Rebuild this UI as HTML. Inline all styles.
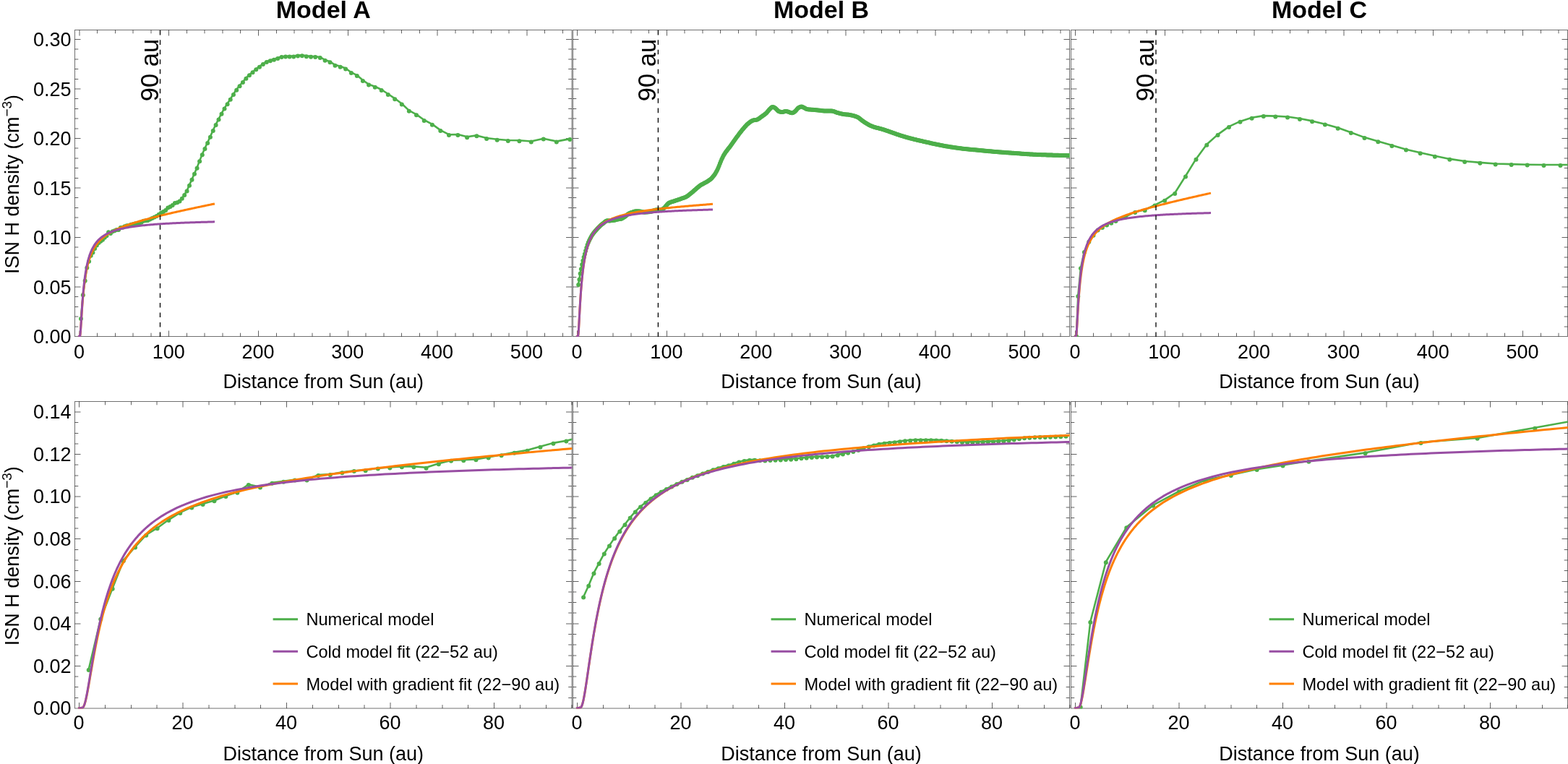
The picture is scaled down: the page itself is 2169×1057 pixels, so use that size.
<!DOCTYPE html>
<html lang="en"><head><meta charset="utf-8"><title>ISN H density models</title>
<style>html,body{margin:0;padding:0;background:#fff}body{width:2169px;height:1057px;overflow:hidden}svg{display:block}text{font-family:"Liberation Sans", Arial, Helvetica, sans-serif}</style>
</head><body>
<svg width="2169" height="1057" viewBox="0 0 2169 1057">
<rect width="2169" height="1057" fill="#fff"/>
<g id="p00">
<path d="M110 465.5 v-8 M110 41.5 v8 M134.5 465.5 v-4.8 M134.5 41.5 v4.8 M159.5 465.5 v-4.8 M159.5 41.5 v4.8 M184 465.5 v-4.8 M184 41.5 v4.8 M209 465.5 v-4.8 M209 41.5 v4.8 M233.5 465.5 v-8 M233.5 41.5 v8 M258.5 465.5 v-4.8 M258.5 41.5 v4.8 M283 465.5 v-4.8 M283 41.5 v4.8 M308 465.5 v-4.8 M308 41.5 v4.8 M332.5 465.5 v-4.8 M332.5 41.5 v4.8 M357.5 465.5 v-8 M357.5 41.5 v8 M382.5 465.5 v-4.8 M382.5 41.5 v4.8 M407 465.5 v-4.8 M407 41.5 v4.8 M432 465.5 v-4.8 M432 41.5 v4.8 M456.5 465.5 v-4.8 M456.5 41.5 v4.8 M481.5 465.5 v-8 M481.5 41.5 v8 M506 465.5 v-4.8 M506 41.5 v4.8 M531 465.5 v-4.8 M531 41.5 v4.8 M555.5 465.5 v-4.8 M555.5 41.5 v4.8 M580.5 465.5 v-4.8 M580.5 41.5 v4.8 M605 465.5 v-8 M605 41.5 v8 M630 465.5 v-4.8 M630 41.5 v4.8 M654.5 465.5 v-4.8 M654.5 41.5 v4.8 M679.5 465.5 v-4.8 M679.5 41.5 v4.8 M704 465.5 v-4.8 M704 41.5 v4.8 M729 465.5 v-8 M729 41.5 v8 M753.5 465.5 v-4.8 M753.5 41.5 v4.8 M778.5 465.5 v-4.8 M778.5 41.5 v4.8 M103.5 452 h4.8 M791 452 h-4.8 M103.5 438 h4.8 M791 438 h-4.8 M103.5 424.5 h4.8 M791 424.5 h-4.8 M103.5 410.5 h4.8 M791 410.5 h-4.8 M103.5 397 h8 M791 397 h-8 M103.5 383.5 h4.8 M791 383.5 h-4.8 M103.5 369.5 h4.8 M791 369.5 h-4.8 M103.5 356 h4.8 M791 356 h-4.8 M103.5 342 h4.8 M791 342 h-4.8 M103.5 328.5 h8 M791 328.5 h-8 M103.5 315 h4.8 M791 315 h-4.8 M103.5 301 h4.8 M791 301 h-4.8 M103.5 287.5 h4.8 M791 287.5 h-4.8 M103.5 273.5 h4.8 M791 273.5 h-4.8 M103.5 260 h8 M791 260 h-8 M103.5 246.5 h4.8 M791 246.5 h-4.8 M103.5 232.5 h4.8 M791 232.5 h-4.8 M103.5 219 h4.8 M791 219 h-4.8 M103.5 205 h4.8 M791 205 h-4.8 M103.5 191.5 h8 M791 191.5 h-8 M103.5 178 h4.8 M791 178 h-4.8 M103.5 164 h4.8 M791 164 h-4.8 M103.5 150.5 h4.8 M791 150.5 h-4.8 M103.5 136.5 h4.8 M791 136.5 h-4.8 M103.5 123 h8 M791 123 h-8 M103.5 109.5 h4.8 M791 109.5 h-4.8 M103.5 95.5 h4.8 M791 95.5 h-4.8 M103.5 82 h4.8 M791 82 h-4.8 M103.5 68 h4.8 M791 68 h-4.8 M103.5 54.5 h8 M791 54.5 h-8" stroke="#000" stroke-opacity="0.62" stroke-width="1" fill="none"/>
<rect x="103.5" y="41.5" width="687.5" height="424" fill="none" stroke="#000" stroke-opacity="0.56" stroke-width="1"/>
<clipPath id="c00"><rect x="103.5" y="41.5" width="687.8" height="424.5"/></clipPath>
<g clip-path="url(#c00)" fill="none" stroke-linejoin="round" stroke-linecap="butt">
<path d="M111.98 440.14 L114.84 407.28 L117.66 387.57 L120.29 369.5 L123.08 360.73 L125.7 352.93 L128.37 348.55 L131.08 343.21 L133.83 338.56 L136.58 335 L139.24 332.94 L141.97 330.75 L144.72 327.74 L147.48 325.28 L150.14 320.35 L152.93 321.99 L155.78 319.25 L158.5 318.3 L161.23 317.2 L164.07 317.2 L166.8 314.19 L169.65 313.78 L172.5 312.41 L175.35 311.45 L178.07 311.04 L181.04 309.81 L183.89 309.26 L186.74 308.71 L189.59 308.71 L192.56 309.4 L195.53 306.8 L198.51 304.74 L201.48 304.47 L204.45 304.06 L207.43 302.69 L210.52 301.18 L213.62 299.54 L216.72 298.17 L219.81 295.84 L222.91 293.52 L226 292.01 L229.13 290.05 L232.29 286.65 L235.47 285.06 L238.68 283.22 L241.92 279.98 L245.18 279.32 L248.48 277.52 L251.82 273.96 L255.18 269.13 L258.58 263.69 L262.02 255.85 L265.49 247.91 L269 239.95 L272.55 231.73 L276.14 222.37 L279.77 213.39 L283.44 205.08 L287.17 197.03 L290.93 188.8 L294.75 180.15 L298.61 172.04 L302.53 164.52 L306.5 156.84 L310.52 149.65 L314.6 143.32 L318.74 136.97 L322.95 130.1 L327.21 123.8 L331.54 118.25 L335.94 113.2 L340.41 107.73 L344.95 103.45 L349.56 99.45 L354.26 95.39 L359.03 91.8 L363.89 88.21 L368.84 85.2 L373.87 83.28 L379 81.86 L384.23 80.2 L389.56 78.18 L395 77.71 L400.54 77.5 L406.2 77.49 L411.97 76.61 L417.87 76.3 L423.9 77.36 L430.06 77.9 L436.2 78 L442.8 79.2 L449.6 82.9 L456.5 85.3 L463.5 89.8 L470.7 91.8 L478.1 94.5 L485.9 100.2 L493.8 104.1 L501.9 111 L510.1 116.7 L518.7 119.8 L527.7 124 L536.8 130 L546.2 136.3 L555.8 143.5 L565.8 152.9 L576 158.4 L586.7 166 L597.9 171.9 L609.3 180.1 L621 186.2 L633.4 186 L646.1 189.3 L659.4 187.4 L673.1 191 L687.7 192.8 L702.8 194 L718.4 194.3 L734.8 195.5 L751.8 191.7 L769.8 195.6 L788.3 192.1 L807.5 194.1" stroke="#4daf4a" stroke-width="2.6"/>
<g fill="#4daf4a" stroke="none">
<circle cx="111.98" cy="441.04" r="3.0"/>
<circle cx="114.84" cy="408.18" r="3.0"/>
<circle cx="117.66" cy="388.47" r="3.0"/>
<circle cx="120.29" cy="370.4" r="3.0"/>
<circle cx="123.08" cy="361.63" r="3.0"/>
<circle cx="125.7" cy="353.83" r="3.0"/>
<circle cx="128.37" cy="349.45" r="3.0"/>
<circle cx="131.08" cy="344.11" r="3.0"/>
<circle cx="133.83" cy="339.46" r="3.0"/>
<circle cx="136.58" cy="335.9" r="3.0"/>
<circle cx="139.24" cy="333.84" r="3.0"/>
<circle cx="141.97" cy="331.65" r="3.0"/>
<circle cx="144.72" cy="328.64" r="3.0"/>
<circle cx="147.48" cy="326.18" r="3.0"/>
<circle cx="150.14" cy="321.25" r="3.0"/>
<circle cx="152.93" cy="322.89" r="3.0"/>
<circle cx="155.78" cy="320.15" r="3.0"/>
<circle cx="158.5" cy="319.2" r="3.0"/>
<circle cx="161.23" cy="318.1" r="3.0"/>
<circle cx="164.07" cy="318.1" r="3.0"/>
<circle cx="166.8" cy="315.09" r="3.0"/>
<circle cx="169.65" cy="314.68" r="3.0"/>
<circle cx="172.5" cy="313.31" r="3.0"/>
<circle cx="175.35" cy="312.35" r="3.0"/>
<circle cx="178.07" cy="311.94" r="3.0"/>
<circle cx="181.04" cy="310.71" r="3.0"/>
<circle cx="183.89" cy="310.16" r="3.0"/>
<circle cx="186.74" cy="309.61" r="3.0"/>
<circle cx="189.59" cy="309.61" r="3.0"/>
<circle cx="192.56" cy="310.3" r="3.0"/>
<circle cx="195.53" cy="307.7" r="3.0"/>
<circle cx="198.51" cy="305.64" r="3.0"/>
<circle cx="201.48" cy="305.37" r="3.0"/>
<circle cx="204.45" cy="304.96" r="3.0"/>
<circle cx="207.43" cy="303.59" r="3.0"/>
<circle cx="210.52" cy="302.08" r="3.0"/>
<circle cx="213.62" cy="300.44" r="3.0"/>
<circle cx="216.72" cy="299.07" r="3.0"/>
<circle cx="219.81" cy="296.74" r="3.0"/>
<circle cx="222.91" cy="294.42" r="3.0"/>
<circle cx="226" cy="292.91" r="3.0"/>
<circle cx="229.13" cy="290.95" r="3.0"/>
<circle cx="232.29" cy="287.55" r="3.0"/>
<circle cx="235.47" cy="285.96" r="3.0"/>
<circle cx="238.68" cy="284.12" r="3.0"/>
<circle cx="241.92" cy="280.88" r="3.0"/>
<circle cx="245.18" cy="280.22" r="3.0"/>
<circle cx="248.48" cy="278.42" r="3.0"/>
<circle cx="251.82" cy="274.86" r="3.0"/>
<circle cx="255.18" cy="270.03" r="3.0"/>
<circle cx="258.58" cy="264.59" r="3.0"/>
<circle cx="262.02" cy="256.75" r="3.0"/>
<circle cx="265.49" cy="248.81" r="3.0"/>
<circle cx="269" cy="240.85" r="3.0"/>
<circle cx="272.55" cy="232.63" r="3.0"/>
<circle cx="276.14" cy="223.27" r="3.0"/>
<circle cx="279.77" cy="214.29" r="3.0"/>
<circle cx="283.44" cy="205.98" r="3.0"/>
<circle cx="287.17" cy="197.93" r="3.0"/>
<circle cx="290.93" cy="189.7" r="3.0"/>
<circle cx="294.75" cy="181.05" r="3.0"/>
<circle cx="298.61" cy="172.94" r="3.0"/>
<circle cx="302.53" cy="165.42" r="3.0"/>
<circle cx="306.5" cy="157.74" r="3.0"/>
<circle cx="310.52" cy="150.55" r="3.0"/>
<circle cx="314.6" cy="144.22" r="3.0"/>
<circle cx="318.74" cy="137.87" r="3.0"/>
<circle cx="322.95" cy="131" r="3.0"/>
<circle cx="327.21" cy="124.7" r="3.0"/>
<circle cx="331.54" cy="119.15" r="3.0"/>
<circle cx="335.94" cy="114.1" r="3.0"/>
<circle cx="340.41" cy="108.63" r="3.0"/>
<circle cx="344.95" cy="104.35" r="3.0"/>
<circle cx="349.56" cy="100.35" r="3.0"/>
<circle cx="354.26" cy="96.29" r="3.0"/>
<circle cx="359.03" cy="92.7" r="3.0"/>
<circle cx="363.89" cy="89.11" r="3.0"/>
<circle cx="368.84" cy="86.1" r="3.0"/>
<circle cx="373.87" cy="84.18" r="3.0"/>
<circle cx="379" cy="82.76" r="3.0"/>
<circle cx="384.23" cy="81.1" r="3.0"/>
<circle cx="389.56" cy="79.08" r="3.0"/>
<circle cx="395" cy="78.61" r="3.0"/>
<circle cx="400.54" cy="78.4" r="3.0"/>
<circle cx="406.2" cy="78.39" r="3.0"/>
<circle cx="411.97" cy="77.51" r="3.0"/>
<circle cx="417.87" cy="77.2" r="3.0"/>
<circle cx="423.9" cy="78.26" r="3.0"/>
<circle cx="430.06" cy="78.8" r="3.0"/>
<circle cx="436.2" cy="78.9" r="3.0"/>
<circle cx="442.8" cy="80.1" r="3.0"/>
<circle cx="449.6" cy="83.8" r="3.0"/>
<circle cx="456.5" cy="86.2" r="3.0"/>
<circle cx="463.5" cy="90.7" r="3.0"/>
<circle cx="470.7" cy="92.7" r="3.0"/>
<circle cx="478.1" cy="95.4" r="3.0"/>
<circle cx="485.9" cy="101.1" r="3.0"/>
<circle cx="493.8" cy="105" r="3.0"/>
<circle cx="501.9" cy="111.9" r="3.0"/>
<circle cx="510.1" cy="117.6" r="3.0"/>
<circle cx="518.7" cy="120.7" r="3.0"/>
<circle cx="527.7" cy="124.9" r="3.0"/>
<circle cx="536.8" cy="130.9" r="3.0"/>
<circle cx="546.2" cy="137.2" r="3.0"/>
<circle cx="555.8" cy="144.4" r="3.0"/>
<circle cx="565.8" cy="153.8" r="3.0"/>
<circle cx="576" cy="159.3" r="3.0"/>
<circle cx="586.7" cy="166.9" r="3.0"/>
<circle cx="597.9" cy="172.8" r="3.0"/>
<circle cx="609.3" cy="181" r="3.0"/>
<circle cx="621" cy="187.1" r="3.0"/>
<circle cx="633.4" cy="186.9" r="3.0"/>
<circle cx="646.1" cy="190.2" r="3.0"/>
<circle cx="659.4" cy="188.3" r="3.0"/>
<circle cx="673.1" cy="191.9" r="3.0"/>
<circle cx="687.7" cy="193.7" r="3.0"/>
<circle cx="702.8" cy="194.9" r="3.0"/>
<circle cx="718.4" cy="195.2" r="3.0"/>
<circle cx="734.8" cy="196.4" r="3.0"/>
<circle cx="751.8" cy="192.6" r="3.0"/>
<circle cx="769.8" cy="196.5" r="3.0"/>
<circle cx="788.3" cy="193" r="3.0"/>
</g>
<path d="M109.7 465.2 L110.57 464.87 L110.69 464.52 L110.8 463.97 L110.92 463.24 L111.04 462.31 L111.16 461.2 L111.28 459.94 L111.4 458.53 L111.52 457.01 L111.64 455.39 L111.76 453.69 L111.87 451.93 L111.99 450.12 L112.11 448.28 L112.23 446.43 L112.35 444.56 L112.47 442.69 L112.59 440.83 L112.71 438.97 L112.83 437.14 L112.94 435.32 L113.06 433.52 L113.18 431.75 L113.3 430.01 L113.42 428.29 L113.54 426.61 L113.66 424.96 L113.78 423.34 L113.9 421.75 L114.01 420.19 L114.13 418.66 L114.25 417.17 L114.37 415.7 L114.49 414.27 L114.61 412.87 L114.73 411.5 L114.85 410.15 L114.97 408.84 L115.08 407.55 L115.2 406.3 L115.32 405.07 L115.44 403.86 L115.56 402.69 L115.68 401.53 L115.8 400.4 L115.92 399.3 L116.04 398.22 L116.15 397.16 L116.27 396.13 L116.39 395.11 L116.51 394.12 L116.63 393.14 L116.75 392.19 L116.87 391.26 L116.99 390.34 L117.1 389.44 L117.22 388.57 L117.34 387.7 L117.46 386.86 L117.58 386.03 L117.7 385.22 L117.82 384.42 L117.94 383.64 L118.06 382.87 L118.17 382.12 L118.29 381.38 L118.41 380.65 L118.53 379.94 L118.65 379.24 L118.77 378.55 L118.89 377.88 L119.01 377.21 L119.13 376.56 L119.24 375.92 L119.36 375.29 L119.48 374.67 L119.6 374.06 L119.72 373.47 L119.84 372.88 L119.96 372.3 L120.08 371.73 L120.2 371.17 L120.31 370.62 L120.43 370.08 L120.55 369.54 L120.67 369.02 L120.79 368.5 L120.91 367.99 L121.03 367.49 L121.15 367 L121.27 366.51 L121.38 366.04 L121.5 365.56 L121.62 365.1 L121.74 364.64 L121.86 364.19 L121.98 363.75 L122.1 363.31 L122.22 362.88 L122.34 362.45 L122.45 362.03 L122.57 361.62 L122.69 361.21 L122.81 360.8 L122.93 360.41 L123.05 360.01 L123.17 359.63 L123.29 359.25 L123.41 358.87 L123.52 358.5 L123.64 358.13 L123.76 357.77 L123.88 357.41 L124 357.06 L124.12 356.71 L124.24 356.36 L124.36 356.02 L124.48 355.69 L124.59 355.36 L124.71 355.03 L124.83 354.71 L124.95 354.39 L125.07 354.07 L125.19 353.76 L125.31 353.45 L125.43 353.14 L125.54 352.84 L125.66 352.54 L125.78 352.25 L125.9 351.96 L126.02 351.67 L126.14 351.39 L126.26 351.1 L126.38 350.83 L126.5 350.55 L126.61 350.28 L126.73 350.01 L126.85 349.74 L126.97 349.48 L127.09 349.22 L127.21 348.96 L127.33 348.7 L127.45 348.45 L127.57 348.2 L127.68 347.95 L127.8 347.71 L127.92 347.47 L128.04 347.23 L128.16 346.99 L128.28 346.75 L130.16 343.32 L132.04 340.34 L133.92 337.73 L135.79 335.41 L137.67 333.33 L139.55 331.45 L141.43 329.74 L143.31 328.16 L145.19 326.71 L147.07 325.36 L148.95 324.1 L150.82 322.92 L152.7 321.81 L154.58 320.76 L156.46 319.76 L158.34 318.81 L160.22 317.91 L162.1 317.04 L163.98 316.2 L165.85 315.4 L167.73 314.63 L169.61 313.88 L171.49 313.16 L173.37 312.45 L175.25 311.77 L177.13 311.11 L179.01 310.46 L180.88 309.83 L182.76 309.21 L184.64 308.6 L186.52 308.01 L188.4 307.43 L190.28 306.86 L192.16 306.3 L194.04 305.75 L195.91 305.21 L197.79 304.68 L199.67 304.15 L201.55 303.63 L203.43 303.12 L205.31 302.62 L207.19 302.12 L209.07 301.62 L210.95 301.14 L212.82 300.66 L214.7 300.18 L216.58 299.7 L218.46 299.24 L220.34 298.77 L222.22 298.31 L224.1 297.86 L225.98 297.4 L227.85 296.95 L229.73 296.51 L231.61 296.07 L233.49 295.63 L235.37 295.19 L237.25 294.75 L239.13 294.32 L241.01 293.89 L242.88 293.47 L244.76 293.04 L246.64 292.62 L248.52 292.2 L250.4 291.78 L252.28 291.37 L254.16 290.95 L256.04 290.54 L257.91 290.13 L259.79 289.72 L261.67 289.31 L263.55 288.91 L265.43 288.5 L267.31 288.1 L269.19 287.7 L271.07 287.3 L272.94 286.9 L274.82 286.5 L276.7 286.11 L278.58 285.71 L280.46 285.32 L282.34 284.93 L284.22 284.54 L286.1 284.15 L287.97 283.76 L289.85 283.37 L291.73 282.98 L293.61 282.59 L295.49 282.21" stroke="#ff7f00" stroke-width="3.0" stroke-linecap="square"/>
<path d="M109.7 465.2 L110.57 464.85 L110.69 464.47 L110.8 463.89 L110.92 463.1 L111.04 462.12 L111.16 460.94 L111.28 459.6 L111.4 458.11 L111.52 456.5 L111.64 454.78 L111.76 452.99 L111.87 451.13 L111.99 449.23 L112.11 447.29 L112.23 445.33 L112.35 443.37 L112.47 441.4 L112.59 439.44 L112.71 437.49 L112.83 435.56 L112.94 433.65 L113.06 431.76 L113.18 429.91 L113.3 428.08 L113.42 426.28 L113.54 424.52 L113.66 422.79 L113.78 421.09 L113.9 419.43 L114.01 417.8 L114.13 416.2 L114.25 414.64 L114.37 413.11 L114.49 411.62 L114.61 410.15 L114.73 408.72 L114.85 407.32 L114.97 405.96 L115.08 404.62 L115.2 403.31 L115.32 402.03 L115.44 400.78 L115.56 399.55 L115.68 398.36 L115.8 397.19 L115.92 396.04 L116.04 394.92 L116.15 393.82 L116.27 392.75 L116.39 391.7 L116.51 390.67 L116.63 389.66 L116.75 388.68 L116.87 387.71 L116.99 386.77 L117.1 385.84 L117.22 384.94 L117.34 384.05 L117.46 383.18 L117.58 382.32 L117.7 381.49 L117.82 380.67 L117.94 379.86 L118.06 379.07 L118.17 378.3 L118.29 377.54 L118.41 376.8 L118.53 376.07 L118.65 375.35 L118.77 374.65 L118.89 373.96 L119.01 373.28 L119.13 372.61 L119.24 371.96 L119.36 371.32 L119.48 370.68 L119.6 370.06 L119.72 369.46 L119.84 368.86 L119.96 368.27 L120.08 367.69 L120.2 367.12 L120.31 366.56 L120.43 366.01 L120.55 365.47 L120.67 364.94 L120.79 364.42 L120.91 363.9 L121.03 363.4 L121.15 362.9 L121.27 362.41 L121.38 361.93 L121.5 361.45 L121.62 360.98 L121.74 360.52 L121.86 360.07 L121.98 359.62 L122.1 359.18 L122.22 358.75 L122.34 358.32 L122.45 357.9 L122.57 357.49 L122.69 357.08 L122.81 356.68 L122.93 356.28 L123.05 355.89 L123.17 355.5 L123.29 355.12 L123.41 354.75 L123.52 354.38 L123.64 354.01 L123.76 353.65 L123.88 353.3 L124 352.95 L124.12 352.6 L124.24 352.26 L124.36 351.93 L124.48 351.59 L124.59 351.27 L124.71 350.94 L124.83 350.63 L124.95 350.31 L125.07 350 L125.19 349.69 L125.31 349.39 L125.43 349.09 L125.54 348.8 L125.66 348.5 L125.78 348.22 L125.9 347.93 L126.02 347.65 L126.14 347.37 L126.26 347.1 L126.38 346.83 L126.5 346.56 L126.61 346.29 L126.73 346.03 L126.85 345.77 L126.97 345.52 L127.09 345.27 L127.21 345.02 L127.33 344.77 L127.45 344.53 L127.57 344.28 L127.68 344.05 L127.8 343.81 L127.92 343.58 L128.04 343.35 L128.16 343.12 L128.28 342.89 L130.16 339.63 L132.04 336.85 L133.92 334.45 L135.79 332.37 L137.67 330.53 L139.55 328.91 L141.43 327.46 L143.31 326.16 L145.19 324.99 L147.07 323.93 L148.95 322.96 L150.82 322.08 L152.7 321.27 L154.58 320.52 L156.46 319.83 L158.34 319.19 L160.22 318.59 L162.1 318.03 L163.98 317.52 L165.85 317.03 L167.73 316.57 L169.61 316.15 L171.49 315.74 L173.37 315.36 L175.25 315 L177.13 314.66 L179.01 314.34 L180.88 314.03 L182.76 313.74 L184.64 313.46 L186.52 313.2 L188.4 312.95 L190.28 312.71 L192.16 312.48 L194.04 312.26 L195.91 312.05 L197.79 311.85 L199.67 311.65 L201.55 311.47 L203.43 311.29 L205.31 311.12 L207.19 310.95 L209.07 310.79 L210.95 310.64 L212.82 310.49 L214.7 310.35 L216.58 310.21 L218.46 310.07 L220.34 309.95 L222.22 309.82 L224.1 309.7 L225.98 309.58 L227.85 309.47 L229.73 309.36 L231.61 309.25 L233.49 309.15 L235.37 309.05 L237.25 308.95 L239.13 308.86 L241.01 308.76 L242.88 308.68 L244.76 308.59 L246.64 308.5 L248.52 308.42 L250.4 308.34 L252.28 308.26 L254.16 308.19 L256.04 308.11 L257.91 308.04 L259.79 307.97 L261.67 307.9 L263.55 307.83 L265.43 307.77 L267.31 307.7 L269.19 307.64 L271.07 307.58 L272.94 307.52 L274.82 307.46 L276.7 307.4 L278.58 307.35 L280.46 307.29 L282.34 307.24 L284.22 307.19 L286.1 307.13 L287.97 307.08 L289.85 307.03 L291.73 306.99 L293.61 306.94 L295.49 306.89" stroke="#984ea3" stroke-width="3.0" stroke-linecap="square"/>
</g>
<path d="M221.5 466 V41.5" stroke="#000" stroke-width="1.3" stroke-dasharray="6.6 6.87" fill="none"/>
<text transform="translate(218.5 53.7) rotate(-90)" font-size="34.6" text-anchor="end" fill="#000">90 au</text>
<g font-size="27" fill="#000" text-anchor="middle">
<text x="109.4" y="495.5">0</text>
<text x="233.2" y="495.5">100</text>
<text x="357" y="495.5">200</text>
<text x="480.8" y="495.5">300</text>
<text x="604.6" y="495.5">400</text>
<text x="728.4" y="495.5">500</text>
<text x="447.25" y="537">Distance from Sun (au)</text>
</g>
<g font-size="27" fill="#000" text-anchor="end">
<text x="98.5" y="475.2">0.00</text>
<text x="98.5" y="406.7">0.05</text>
<text x="98.5" y="338.2">0.10</text>
<text x="98.5" y="269.7">0.15</text>
<text x="98.5" y="201.2">0.20</text>
<text x="98.5" y="132.7">0.25</text>
<text x="98.5" y="64.2">0.30</text>
</g>
<text transform="translate(25.5 255) rotate(-90)" font-size="27" text-anchor="middle" fill="#000">ISN H density (cm<tspan font-size="19" dy="-9.5">−3</tspan><tspan dy="9.5">)</tspan></text>
<text x="447.25" y="24.7" font-size="34" font-weight="bold" text-anchor="middle" fill="#000">Model A</text>
</g>
<g id="p01">
<path d="M798.5 465.5 v-8 M798.5 41.5 v8 M823.5 465.5 v-4.8 M823.5 41.5 v4.8 M848 465.5 v-4.8 M848 41.5 v4.8 M873 465.5 v-4.8 M873 41.5 v4.8 M897.5 465.5 v-4.8 M897.5 41.5 v4.8 M922.5 465.5 v-8 M922.5 41.5 v8 M947 465.5 v-4.8 M947 41.5 v4.8 M972 465.5 v-4.8 M972 41.5 v4.8 M996.5 465.5 v-4.8 M996.5 41.5 v4.8 M1021.5 465.5 v-4.8 M1021.5 41.5 v4.8 M1046 465.5 v-8 M1046 41.5 v8 M1071 465.5 v-4.8 M1071 41.5 v4.8 M1095.5 465.5 v-4.8 M1095.5 41.5 v4.8 M1120.5 465.5 v-4.8 M1120.5 41.5 v4.8 M1145 465.5 v-4.8 M1145 41.5 v4.8 M1170 465.5 v-8 M1170 41.5 v8 M1195 465.5 v-4.8 M1195 41.5 v4.8 M1219.5 465.5 v-4.8 M1219.5 41.5 v4.8 M1244.5 465.5 v-4.8 M1244.5 41.5 v4.8 M1269 465.5 v-4.8 M1269 41.5 v4.8 M1294 465.5 v-8 M1294 41.5 v8 M1318.5 465.5 v-4.8 M1318.5 41.5 v4.8 M1343.5 465.5 v-4.8 M1343.5 41.5 v4.8 M1368 465.5 v-4.8 M1368 41.5 v4.8 M1393 465.5 v-4.8 M1393 41.5 v4.8 M1417.5 465.5 v-8 M1417.5 41.5 v8 M1442.5 465.5 v-4.8 M1442.5 41.5 v4.8 M1467 465.5 v-4.8 M1467 41.5 v4.8 M792.5 452 h4.8 M1479.5 452 h-4.8 M792.5 438 h4.8 M1479.5 438 h-4.8 M792.5 424.5 h4.8 M1479.5 424.5 h-4.8 M792.5 410.5 h4.8 M1479.5 410.5 h-4.8 M792.5 397 h8 M1479.5 397 h-8 M792.5 383.5 h4.8 M1479.5 383.5 h-4.8 M792.5 369.5 h4.8 M1479.5 369.5 h-4.8 M792.5 356 h4.8 M1479.5 356 h-4.8 M792.5 342 h4.8 M1479.5 342 h-4.8 M792.5 328.5 h8 M1479.5 328.5 h-8 M792.5 315 h4.8 M1479.5 315 h-4.8 M792.5 301 h4.8 M1479.5 301 h-4.8 M792.5 287.5 h4.8 M1479.5 287.5 h-4.8 M792.5 273.5 h4.8 M1479.5 273.5 h-4.8 M792.5 260 h8 M1479.5 260 h-8 M792.5 246.5 h4.8 M1479.5 246.5 h-4.8 M792.5 232.5 h4.8 M1479.5 232.5 h-4.8 M792.5 219 h4.8 M1479.5 219 h-4.8 M792.5 205 h4.8 M1479.5 205 h-4.8 M792.5 191.5 h8 M1479.5 191.5 h-8 M792.5 178 h4.8 M1479.5 178 h-4.8 M792.5 164 h4.8 M1479.5 164 h-4.8 M792.5 150.5 h4.8 M1479.5 150.5 h-4.8 M792.5 136.5 h4.8 M1479.5 136.5 h-4.8 M792.5 123 h8 M1479.5 123 h-8 M792.5 109.5 h4.8 M1479.5 109.5 h-4.8 M792.5 95.5 h4.8 M1479.5 95.5 h-4.8 M792.5 82 h4.8 M1479.5 82 h-4.8 M792.5 68 h4.8 M1479.5 68 h-4.8 M792.5 54.5 h8 M1479.5 54.5 h-8" stroke="#000" stroke-opacity="0.62" stroke-width="1" fill="none"/>
<rect x="792.5" y="41.5" width="687" height="424" fill="none" stroke="#000" stroke-opacity="0.56" stroke-width="1"/>
<clipPath id="c01"><rect x="792.5" y="41.5" width="687.3" height="424.5"/></clipPath>
<g clip-path="url(#c01)" fill="none" stroke-linejoin="round" stroke-linecap="butt">
<path d="M800.19 393.12 L801.42 385.74 L802.66 377.69 L803.9 371.33 L805.14 365.03 L806.38 359.85 L807.62 354.95 L808.86 350.48 L810.1 346.1 L811.33 341.76 L812.57 337.85 L813.81 334.61 L815.05 331.91 L816.29 329.28 L817.53 327 L818.77 324.92 L820 323.15 L821.24 321.46 L822.48 319.84 L823.72 318.36 L824.96 316.98 L826.2 315.51 L827.44 314.29 L828.67 313.06 L829.91 311.82 L831.15 310.63 L832.39 309.64 L833.63 308.56 L834.87 307.78 L836.11 306.66 L837.34 305.61 L838.58 304.88 L839.82 304.42 L841.06 304.28 L842.3 304.54 L843.54 304.67 L844.78 304.44 L846.01 304.22 L847.25 304.1 L848.49 303.96 L849.73 303.77 L850.97 303.51 L852.21 303.15 L853.45 302.81 L854.68 302.51 L855.92 302.3 L857.16 302.17 L858.4 302.05 L859.64 301.86 L860.88 301.12 L862.12 300.42 L863.35 299.59 L864.59 298.77 L865.83 297.87 L867.07 296.52 L868.31 295.61 L869.55 294.79 L870.79 294.01 L872.03 293.5 L873.26 293.12 L874.5 292.83 L875.74 292.34 L876.98 291.92 L878.22 291.61 L879.46 291.41 L880.7 291.4 L881.93 291.4 L883.17 291.41 L884.41 291.51 L885.65 291.66 L886.89 291.85 L888.13 292.1 L889.37 292.36 L890.6 292.66 L891.84 292.77 L893.08 292.72 L894.32 292.65 L895.56 292.56 L896.8 292.44 L898.04 292.3 L899.27 292.15 L900.51 291.95 L901.75 291.55 L902.99 291.01 L904.23 290.46 L905.47 290 L906.71 289.71 L907.94 289.52 L909.18 289.43 L910.42 289.39 L911.66 289.32 L912.9 289.22 L914.14 289.07 L915.38 288.83 L916.61 288.43 L917.85 287.65 L919.09 286.48 L920.33 285.07 L921.57 283.57 L922.81 282.11 L924.05 280.85 L925.28 279.92 L926.52 279.32 L927.76 278.81 L929 278.38 L930.24 277.99 L931.48 277.62 L932.72 277.25 L933.96 276.85 L935.19 276.43 L936.43 276.01 L937.67 275.59 L938.91 275.18 L940.15 274.76 L941.39 274.33 L942.63 273.89 L943.86 273.46 L945.1 273.04 L946.34 272.6 L947.58 272.12 L948.82 271.58 L950.06 270.94 L951.3 270.14 L952.53 269.21 L953.77 268.21 L955.01 267.18 L956.25 266.16 L957.49 265.13 L958.73 264.06 L959.97 262.97 L961.2 261.87 L962.44 260.78 L963.68 259.71 L964.92 258.6 L966.16 257.52 L967.4 256.51 L968.64 255.64 L969.87 254.88 L971.11 254.18 L972.35 253.52 L973.59 252.88 L974.83 252.22 L976.07 251.52 L977.31 250.77 L978.54 250.02 L979.78 249.25 L981.02 248.43 L982.26 247.53 L983.5 246.51 L984.74 245.33 L985.98 243.97 L987.21 242.44 L988.45 240.77 L989.69 238.87 L990.93 236.71 L992.17 234.3 L993.41 231.63 L994.65 228.48 L995.89 225.27 L997.12 222.3 L998.36 219.42 L999.6 216.8 L1000.84 214.47 L1002.08 212.36 L1003.32 210.42 L1004.56 208.65 L1005.79 206.99 L1007.03 205.41 L1008.27 203.86 L1009.51 202.28 L1010.75 200.63 L1011.99 198.92 L1013.23 197.16 L1014.46 195.38 L1015.7 193.6 L1016.94 191.83 L1018.18 190.1 L1019.42 188.4 L1020.66 186.73 L1021.9 185.07 L1023.13 183.42 L1024.37 181.81 L1025.61 180.23 L1026.85 178.71 L1028.09 177.24 L1029.33 175.79 L1030.57 174.36 L1031.8 172.99 L1033.04 171.72 L1034.28 170.58 L1035.52 169.55 L1036.76 168.53 L1038 167.58 L1039.24 166.76 L1040.47 166.11 L1041.71 165.68 L1042.95 165.41 L1044.19 165.22 L1045.43 165.03 L1046.67 164.78 L1047.91 164.37 L1049.14 163.68 L1050.38 162.79 L1051.62 161.81 L1052.86 160.85 L1054.1 159.98 L1055.34 159.13 L1056.58 158.28 L1057.82 157.38 L1059.05 156.41 L1060.29 155.32 L1061.53 153.95 L1062.77 152.39 L1064.01 150.86 L1065.25 149.56 L1066.49 148.31 L1067.72 147.28 L1068.96 147.03 L1070.2 147.42 L1071.44 148.08 L1072.68 148.87 L1073.92 150.08 L1075.16 151.44 L1076.39 152.58 L1077.63 153.23 L1078.87 153.71 L1080.11 154.07 L1081.35 154.2 L1082.59 154.06 L1083.83 153.74 L1085.06 153.38 L1086.3 153.09 L1087.54 153.01 L1088.78 153.26 L1090.02 153.72 L1091.26 154.19 L1092.5 154.6 L1093.73 155.07 L1094.97 155.42 L1096.21 155.46 L1097.45 154.97 L1098.69 154.12 L1099.93 153.13 L1101.17 151.93 L1102.4 150.34 L1103.64 148.91 L1104.88 148.06 L1106.12 147.39 L1107.36 146.89 L1108.6 146.7 L1109.84 146.94 L1111.07 147.52 L1112.31 148.17 L1113.55 148.77 L1114.79 149.48 L1116.03 150.1 L1117.27 150.42 L1118.51 150.54 L1119.75 150.63 L1120.98 150.69 L1122.22 150.75 L1123.46 150.81 L1124.7 150.89 L1125.94 151 L1127.18 151.12 L1128.42 151.26 L1129.65 151.4 L1130.89 151.54 L1132.13 151.68 L1133.37 151.81 L1134.61 151.94 L1135.85 152.1 L1137.09 152.25 L1138.32 152.39 L1139.56 152.51 L1140.8 152.58 L1142.04 152.6 L1143.28 152.6 L1144.52 152.6 L1145.76 152.6 L1146.99 152.6 L1148.23 152.6 L1149.47 152.6 L1150.71 152.62 L1151.95 152.82 L1153.19 153.21 L1154.43 153.7 L1155.66 154.21 L1156.9 154.64 L1158.14 155 L1159.38 155.36 L1160.62 155.72 L1161.86 156.06 L1163.1 156.38 L1164.33 156.66 L1165.57 156.9 L1166.81 157.08 L1168.05 157.23 L1169.29 157.36 L1170.53 157.48 L1171.77 157.59 L1173 157.72 L1174.24 157.87 L1175.48 158.05 L1176.72 158.27 L1177.96 158.53 L1179.2 158.82 L1180.44 159.16 L1181.68 159.54 L1182.91 159.95 L1184.15 160.41 L1185.39 160.9 L1186.63 161.45 L1187.87 162.18 L1189.11 163.07 L1190.35 164.05 L1191.58 165.07 L1192.82 166.05 L1194.06 166.94 L1195.3 167.74 L1196.54 168.54 L1197.78 169.33 L1199.02 170.1 L1200.25 170.85 L1201.49 171.57 L1202.73 172.23 L1203.97 172.85 L1205.21 173.4 L1206.45 173.89 L1207.69 174.33 L1208.92 174.74 L1210.16 175.12 L1211.4 175.48 L1212.64 175.82 L1213.88 176.15 L1215.12 176.47 L1216.36 176.78 L1217.59 177.1 L1218.83 177.43 L1220.07 177.76 L1221.31 178.11 L1222.55 178.49 L1223.79 178.89 L1225.03 179.3 L1226.26 179.73 L1227.5 180.16 L1228.74 180.61 L1229.98 181.06 L1231.22 181.51 L1232.46 181.96 L1233.7 182.41 L1234.93 182.85 L1236.17 183.28 L1237.41 183.71 L1238.65 184.13 L1239.89 184.55 L1241.13 184.98 L1242.37 185.4 L1243.61 185.82 L1244.84 186.23 L1246.08 186.64 L1247.32 187.04 L1248.56 187.44 L1249.8 187.82 L1251.04 188.19 L1252.28 188.56 L1253.51 188.91 L1254.75 189.26 L1255.99 189.6 L1257.23 189.93 L1258.47 190.26 L1259.71 190.59 L1260.95 190.91 L1262.18 191.22 L1263.42 191.53 L1264.66 191.84 L1265.9 192.15 L1267.14 192.45 L1268.38 192.75 L1269.62 193.04 L1270.85 193.33 L1272.09 193.61 L1273.33 193.89 L1274.57 194.18 L1275.81 194.45 L1277.05 194.73 L1278.29 195.01 L1279.52 195.29 L1280.76 195.57 L1282 195.86 L1283.24 196.14 L1284.48 196.42 L1285.72 196.71 L1286.96 196.99 L1288.19 197.27 L1289.43 197.55 L1290.67 197.82 L1291.91 198.09 L1293.15 198.36 L1294.39 198.62 L1295.63 198.88 L1296.86 199.13 L1298.1 199.39 L1299.34 199.64 L1300.58 199.89 L1301.82 200.14 L1303.06 200.38 L1304.3 200.62 L1305.54 200.85 L1306.77 201.08 L1308.01 201.3 L1309.25 201.51 L1310.49 201.72 L1311.73 201.92 L1312.97 202.12 L1314.21 202.32 L1315.44 202.51 L1316.68 202.7 L1317.92 202.89 L1319.16 203.07 L1320.4 203.25 L1321.64 203.42 L1322.88 203.6 L1324.11 203.77 L1325.35 203.94 L1326.59 204.11 L1327.83 204.27 L1329.07 204.44 L1330.31 204.6 L1331.55 204.76 L1332.78 204.91 L1334.02 205.06 L1335.26 205.2 L1336.5 205.34 L1337.74 205.47 L1338.98 205.59 L1340.22 205.71 L1341.45 205.82 L1342.69 205.94 L1343.93 206.04 L1345.17 206.15 L1346.41 206.26 L1347.65 206.36 L1348.89 206.47 L1350.12 206.58 L1351.36 206.7 L1352.6 206.81 L1353.84 206.94 L1355.08 207.06 L1356.32 207.18 L1357.56 207.31 L1358.79 207.43 L1360.03 207.56 L1361.27 207.68 L1362.51 207.8 L1363.75 207.92 L1364.99 208.04 L1366.23 208.15 L1367.47 208.26 L1368.7 208.37 L1369.94 208.47 L1371.18 208.58 L1372.42 208.68 L1373.66 208.79 L1374.9 208.89 L1376.14 208.99 L1377.37 209.09 L1378.61 209.19 L1379.85 209.29 L1381.09 209.39 L1382.33 209.49 L1383.57 209.58 L1384.81 209.68 L1386.04 209.78 L1387.28 209.87 L1388.52 209.97 L1389.76 210.06 L1391 210.16 L1392.24 210.25 L1393.48 210.34 L1394.71 210.43 L1395.95 210.52 L1397.19 210.61 L1398.43 210.7 L1399.67 210.78 L1400.91 210.87 L1402.15 210.95 L1403.38 211.04 L1404.62 211.12 L1405.86 211.21 L1407.1 211.3 L1408.34 211.38 L1409.58 211.47 L1410.82 211.56 L1412.05 211.65 L1413.29 211.74 L1414.53 211.83 L1415.77 211.92 L1417.01 212.01 L1418.25 212.1 L1419.49 212.19 L1420.72 212.27 L1421.96 212.34 L1423.2 212.42 L1424.44 212.49 L1425.68 212.56 L1426.92 212.62 L1428.16 212.69 L1429.4 212.75 L1430.63 212.81 L1431.87 212.87 L1433.11 212.93 L1434.35 212.98 L1435.59 213.04 L1436.83 213.09 L1438.07 213.14 L1439.3 213.19 L1440.54 213.23 L1441.78 213.28 L1443.02 213.32 L1444.26 213.37 L1445.5 213.41 L1446.74 213.45 L1447.97 213.49 L1449.21 213.53 L1450.45 213.57 L1451.69 213.61 L1452.93 213.65 L1454.17 213.68 L1455.41 213.72 L1456.64 213.76 L1457.88 213.79 L1459.12 213.83 L1460.36 213.86 L1461.6 213.89 L1462.84 213.93 L1464.08 213.96 L1465.31 213.99 L1466.55 214.02 L1467.79 214.05 L1469.03 214.08 L1470.27 214.11 L1471.51 214.14 L1472.75 214.16 L1473.98 214.19 L1475.22 214.22 L1476.46 214.24 L1477.7 214.27 L1478.94 214.29 L1480.18 214.32 L1481.42 214.34 L1482.65 214.37 L1483.89 214.39 L1485.13 214.42 L1486.37 214.44 L1487.61 214.46 L1488.85 214.49 L1490.09 214.51 L1491.33 214.53 L1492.56 214.56 L1493.8 214.58" stroke="#4daf4a" stroke-width="2.6"/>
<g fill="#4daf4a" stroke="none">
<circle cx="800.19" cy="394.02" r="3.0"/>
<circle cx="801.42" cy="386.64" r="3.0"/>
<circle cx="802.66" cy="378.59" r="3.0"/>
<circle cx="803.9" cy="372.23" r="3.0"/>
<circle cx="805.14" cy="365.93" r="3.0"/>
<circle cx="806.38" cy="360.75" r="3.0"/>
<circle cx="807.62" cy="355.85" r="3.0"/>
<circle cx="808.86" cy="351.38" r="3.0"/>
<circle cx="810.1" cy="347" r="3.0"/>
<circle cx="811.33" cy="342.66" r="3.0"/>
<circle cx="812.57" cy="338.75" r="3.0"/>
<circle cx="813.81" cy="335.51" r="3.0"/>
<circle cx="815.05" cy="332.81" r="3.0"/>
<circle cx="816.29" cy="330.18" r="3.0"/>
<circle cx="817.53" cy="327.9" r="3.0"/>
<circle cx="818.77" cy="325.82" r="3.0"/>
<circle cx="820" cy="324.05" r="3.0"/>
<circle cx="821.24" cy="322.36" r="3.0"/>
<circle cx="822.48" cy="320.74" r="3.0"/>
<circle cx="823.72" cy="319.26" r="3.0"/>
<circle cx="824.96" cy="317.88" r="3.0"/>
<circle cx="826.2" cy="316.41" r="3.0"/>
<circle cx="827.44" cy="315.19" r="3.0"/>
<circle cx="828.67" cy="313.96" r="3.0"/>
<circle cx="829.91" cy="312.72" r="3.0"/>
<circle cx="831.15" cy="311.53" r="3.0"/>
<circle cx="832.39" cy="310.54" r="3.0"/>
<circle cx="833.63" cy="309.46" r="3.0"/>
<circle cx="834.87" cy="308.68" r="3.0"/>
<circle cx="836.11" cy="307.56" r="3.0"/>
<circle cx="837.34" cy="306.51" r="3.0"/>
<circle cx="838.58" cy="305.78" r="3.0"/>
<circle cx="839.82" cy="305.32" r="3.0"/>
<circle cx="841.06" cy="305.18" r="3.0"/>
<circle cx="842.3" cy="305.44" r="3.0"/>
<circle cx="843.54" cy="305.57" r="3.0"/>
<circle cx="844.78" cy="305.34" r="3.0"/>
<circle cx="846.01" cy="305.12" r="3.0"/>
<circle cx="847.25" cy="305" r="3.0"/>
<circle cx="848.49" cy="304.86" r="3.0"/>
<circle cx="849.73" cy="304.67" r="3.0"/>
<circle cx="850.97" cy="304.41" r="3.0"/>
<circle cx="852.21" cy="304.05" r="3.0"/>
<circle cx="853.45" cy="303.71" r="3.0"/>
<circle cx="854.68" cy="303.41" r="3.0"/>
<circle cx="855.92" cy="303.2" r="3.0"/>
<circle cx="857.16" cy="303.07" r="3.0"/>
<circle cx="858.4" cy="302.95" r="3.0"/>
<circle cx="859.64" cy="302.76" r="3.0"/>
<circle cx="860.88" cy="302.02" r="3.0"/>
<circle cx="862.12" cy="301.32" r="3.0"/>
<circle cx="863.35" cy="300.49" r="3.0"/>
<circle cx="864.59" cy="299.67" r="3.0"/>
<circle cx="865.83" cy="298.77" r="3.0"/>
<circle cx="867.07" cy="297.42" r="3.0"/>
<circle cx="868.31" cy="296.51" r="3.0"/>
<circle cx="869.55" cy="295.69" r="3.0"/>
<circle cx="870.79" cy="294.91" r="3.0"/>
<circle cx="872.03" cy="294.4" r="3.0"/>
<circle cx="873.26" cy="294.02" r="3.0"/>
<circle cx="874.5" cy="293.73" r="3.0"/>
<circle cx="875.74" cy="293.24" r="3.0"/>
<circle cx="876.98" cy="292.82" r="3.0"/>
<circle cx="878.22" cy="292.51" r="3.0"/>
<circle cx="879.46" cy="292.31" r="3.0"/>
<circle cx="880.7" cy="292.3" r="3.0"/>
<circle cx="881.93" cy="292.3" r="3.0"/>
<circle cx="883.17" cy="292.31" r="3.0"/>
<circle cx="884.41" cy="292.41" r="3.0"/>
<circle cx="885.65" cy="292.56" r="3.0"/>
<circle cx="886.89" cy="292.75" r="3.0"/>
<circle cx="888.13" cy="293" r="3.0"/>
<circle cx="889.37" cy="293.26" r="3.0"/>
<circle cx="890.6" cy="293.56" r="3.0"/>
<circle cx="891.84" cy="293.67" r="3.0"/>
<circle cx="893.08" cy="293.62" r="3.0"/>
<circle cx="894.32" cy="293.55" r="3.0"/>
<circle cx="895.56" cy="293.46" r="3.0"/>
<circle cx="896.8" cy="293.34" r="3.0"/>
<circle cx="898.04" cy="293.2" r="3.0"/>
<circle cx="899.27" cy="293.05" r="3.0"/>
<circle cx="900.51" cy="292.85" r="3.0"/>
<circle cx="901.75" cy="292.45" r="3.0"/>
<circle cx="902.99" cy="291.91" r="3.0"/>
<circle cx="904.23" cy="291.36" r="3.0"/>
<circle cx="905.47" cy="290.9" r="3.0"/>
<circle cx="906.71" cy="290.61" r="3.0"/>
<circle cx="907.94" cy="290.42" r="3.0"/>
<circle cx="909.18" cy="290.33" r="3.0"/>
<circle cx="910.42" cy="290.29" r="3.0"/>
<circle cx="911.66" cy="290.22" r="3.0"/>
<circle cx="912.9" cy="290.12" r="3.0"/>
<circle cx="914.14" cy="289.97" r="3.0"/>
<circle cx="915.38" cy="289.73" r="3.0"/>
<circle cx="916.61" cy="289.33" r="3.0"/>
<circle cx="917.85" cy="288.55" r="3.0"/>
<circle cx="919.09" cy="287.38" r="3.0"/>
<circle cx="920.33" cy="285.97" r="3.0"/>
<circle cx="921.57" cy="284.47" r="3.0"/>
<circle cx="922.81" cy="283.01" r="3.0"/>
<circle cx="924.05" cy="281.75" r="3.0"/>
<circle cx="925.28" cy="280.82" r="3.0"/>
<circle cx="926.52" cy="280.22" r="3.0"/>
<circle cx="927.76" cy="279.71" r="3.0"/>
<circle cx="929" cy="279.28" r="3.0"/>
<circle cx="930.24" cy="278.89" r="3.0"/>
<circle cx="931.48" cy="278.52" r="3.0"/>
<circle cx="932.72" cy="278.15" r="3.0"/>
<circle cx="933.96" cy="277.75" r="3.0"/>
<circle cx="935.19" cy="277.33" r="3.0"/>
<circle cx="936.43" cy="276.91" r="3.0"/>
<circle cx="937.67" cy="276.49" r="3.0"/>
<circle cx="938.91" cy="276.08" r="3.0"/>
<circle cx="940.15" cy="275.66" r="3.0"/>
<circle cx="941.39" cy="275.23" r="3.0"/>
<circle cx="942.63" cy="274.79" r="3.0"/>
<circle cx="943.86" cy="274.36" r="3.0"/>
<circle cx="945.1" cy="273.94" r="3.0"/>
<circle cx="946.34" cy="273.5" r="3.0"/>
<circle cx="947.58" cy="273.02" r="3.0"/>
<circle cx="948.82" cy="272.48" r="3.0"/>
<circle cx="950.06" cy="271.84" r="3.0"/>
<circle cx="951.3" cy="271.04" r="3.0"/>
<circle cx="952.53" cy="270.11" r="3.0"/>
<circle cx="953.77" cy="269.11" r="3.0"/>
<circle cx="955.01" cy="268.08" r="3.0"/>
<circle cx="956.25" cy="267.06" r="3.0"/>
<circle cx="957.49" cy="266.03" r="3.0"/>
<circle cx="958.73" cy="264.96" r="3.0"/>
<circle cx="959.97" cy="263.87" r="3.0"/>
<circle cx="961.2" cy="262.77" r="3.0"/>
<circle cx="962.44" cy="261.68" r="3.0"/>
<circle cx="963.68" cy="260.61" r="3.0"/>
<circle cx="964.92" cy="259.5" r="3.0"/>
<circle cx="966.16" cy="258.42" r="3.0"/>
<circle cx="967.4" cy="257.41" r="3.0"/>
<circle cx="968.64" cy="256.54" r="3.0"/>
<circle cx="969.87" cy="255.78" r="3.0"/>
<circle cx="971.11" cy="255.08" r="3.0"/>
<circle cx="972.35" cy="254.42" r="3.0"/>
<circle cx="973.59" cy="253.78" r="3.0"/>
<circle cx="974.83" cy="253.12" r="3.0"/>
<circle cx="976.07" cy="252.42" r="3.0"/>
<circle cx="977.31" cy="251.67" r="3.0"/>
<circle cx="978.54" cy="250.92" r="3.0"/>
<circle cx="979.78" cy="250.15" r="3.0"/>
<circle cx="981.02" cy="249.33" r="3.0"/>
<circle cx="982.26" cy="248.43" r="3.0"/>
<circle cx="983.5" cy="247.41" r="3.0"/>
<circle cx="984.74" cy="246.23" r="3.0"/>
<circle cx="985.98" cy="244.87" r="3.0"/>
<circle cx="987.21" cy="243.34" r="3.0"/>
<circle cx="988.45" cy="241.67" r="3.0"/>
<circle cx="989.69" cy="239.77" r="3.0"/>
<circle cx="990.93" cy="237.61" r="3.0"/>
<circle cx="992.17" cy="235.2" r="3.0"/>
<circle cx="993.41" cy="232.53" r="3.0"/>
<circle cx="994.65" cy="229.38" r="3.0"/>
<circle cx="995.89" cy="226.17" r="3.0"/>
<circle cx="997.12" cy="223.2" r="3.0"/>
<circle cx="998.36" cy="220.32" r="3.0"/>
<circle cx="999.6" cy="217.7" r="3.0"/>
<circle cx="1000.84" cy="215.37" r="3.0"/>
<circle cx="1002.08" cy="213.26" r="3.0"/>
<circle cx="1003.32" cy="211.32" r="3.0"/>
<circle cx="1004.56" cy="209.55" r="3.0"/>
<circle cx="1005.79" cy="207.89" r="3.0"/>
<circle cx="1007.03" cy="206.31" r="3.0"/>
<circle cx="1008.27" cy="204.76" r="3.0"/>
<circle cx="1009.51" cy="203.18" r="3.0"/>
<circle cx="1010.75" cy="201.53" r="3.0"/>
<circle cx="1011.99" cy="199.82" r="3.0"/>
<circle cx="1013.23" cy="198.06" r="3.0"/>
<circle cx="1014.46" cy="196.28" r="3.0"/>
<circle cx="1015.7" cy="194.5" r="3.0"/>
<circle cx="1016.94" cy="192.73" r="3.0"/>
<circle cx="1018.18" cy="191" r="3.0"/>
<circle cx="1019.42" cy="189.3" r="3.0"/>
<circle cx="1020.66" cy="187.63" r="3.0"/>
<circle cx="1021.9" cy="185.97" r="3.0"/>
<circle cx="1023.13" cy="184.32" r="3.0"/>
<circle cx="1024.37" cy="182.71" r="3.0"/>
<circle cx="1025.61" cy="181.13" r="3.0"/>
<circle cx="1026.85" cy="179.61" r="3.0"/>
<circle cx="1028.09" cy="178.14" r="3.0"/>
<circle cx="1029.33" cy="176.69" r="3.0"/>
<circle cx="1030.57" cy="175.26" r="3.0"/>
<circle cx="1031.8" cy="173.89" r="3.0"/>
<circle cx="1033.04" cy="172.62" r="3.0"/>
<circle cx="1034.28" cy="171.48" r="3.0"/>
<circle cx="1035.52" cy="170.45" r="3.0"/>
<circle cx="1036.76" cy="169.43" r="3.0"/>
<circle cx="1038" cy="168.48" r="3.0"/>
<circle cx="1039.24" cy="167.66" r="3.0"/>
<circle cx="1040.47" cy="167.01" r="3.0"/>
<circle cx="1041.71" cy="166.58" r="3.0"/>
<circle cx="1042.95" cy="166.31" r="3.0"/>
<circle cx="1044.19" cy="166.12" r="3.0"/>
<circle cx="1045.43" cy="165.93" r="3.0"/>
<circle cx="1046.67" cy="165.68" r="3.0"/>
<circle cx="1047.91" cy="165.27" r="3.0"/>
<circle cx="1049.14" cy="164.58" r="3.0"/>
<circle cx="1050.38" cy="163.69" r="3.0"/>
<circle cx="1051.62" cy="162.71" r="3.0"/>
<circle cx="1052.86" cy="161.75" r="3.0"/>
<circle cx="1054.1" cy="160.88" r="3.0"/>
<circle cx="1055.34" cy="160.03" r="3.0"/>
<circle cx="1056.58" cy="159.18" r="3.0"/>
<circle cx="1057.82" cy="158.28" r="3.0"/>
<circle cx="1059.05" cy="157.31" r="3.0"/>
<circle cx="1060.29" cy="156.22" r="3.0"/>
<circle cx="1061.53" cy="154.85" r="3.0"/>
<circle cx="1062.77" cy="153.29" r="3.0"/>
<circle cx="1064.01" cy="151.76" r="3.0"/>
<circle cx="1065.25" cy="150.46" r="3.0"/>
<circle cx="1066.49" cy="149.21" r="3.0"/>
<circle cx="1067.72" cy="148.18" r="3.0"/>
<circle cx="1068.96" cy="147.93" r="3.0"/>
<circle cx="1070.2" cy="148.32" r="3.0"/>
<circle cx="1071.44" cy="148.98" r="3.0"/>
<circle cx="1072.68" cy="149.77" r="3.0"/>
<circle cx="1073.92" cy="150.98" r="3.0"/>
<circle cx="1075.16" cy="152.34" r="3.0"/>
<circle cx="1076.39" cy="153.48" r="3.0"/>
<circle cx="1077.63" cy="154.13" r="3.0"/>
<circle cx="1078.87" cy="154.61" r="3.0"/>
<circle cx="1080.11" cy="154.97" r="3.0"/>
<circle cx="1081.35" cy="155.1" r="3.0"/>
<circle cx="1082.59" cy="154.96" r="3.0"/>
<circle cx="1083.83" cy="154.64" r="3.0"/>
<circle cx="1085.06" cy="154.28" r="3.0"/>
<circle cx="1086.3" cy="153.99" r="3.0"/>
<circle cx="1087.54" cy="153.91" r="3.0"/>
<circle cx="1088.78" cy="154.16" r="3.0"/>
<circle cx="1090.02" cy="154.62" r="3.0"/>
<circle cx="1091.26" cy="155.09" r="3.0"/>
<circle cx="1092.5" cy="155.5" r="3.0"/>
<circle cx="1093.73" cy="155.97" r="3.0"/>
<circle cx="1094.97" cy="156.32" r="3.0"/>
<circle cx="1096.21" cy="156.36" r="3.0"/>
<circle cx="1097.45" cy="155.87" r="3.0"/>
<circle cx="1098.69" cy="155.02" r="3.0"/>
<circle cx="1099.93" cy="154.03" r="3.0"/>
<circle cx="1101.17" cy="152.83" r="3.0"/>
<circle cx="1102.4" cy="151.24" r="3.0"/>
<circle cx="1103.64" cy="149.81" r="3.0"/>
<circle cx="1104.88" cy="148.96" r="3.0"/>
<circle cx="1106.12" cy="148.29" r="3.0"/>
<circle cx="1107.36" cy="147.79" r="3.0"/>
<circle cx="1108.6" cy="147.6" r="3.0"/>
<circle cx="1109.84" cy="147.84" r="3.0"/>
<circle cx="1111.07" cy="148.42" r="3.0"/>
<circle cx="1112.31" cy="149.07" r="3.0"/>
<circle cx="1113.55" cy="149.67" r="3.0"/>
<circle cx="1114.79" cy="150.38" r="3.0"/>
<circle cx="1116.03" cy="151" r="3.0"/>
<circle cx="1117.27" cy="151.32" r="3.0"/>
<circle cx="1118.51" cy="151.44" r="3.0"/>
<circle cx="1119.75" cy="151.53" r="3.0"/>
<circle cx="1120.98" cy="151.59" r="3.0"/>
<circle cx="1122.22" cy="151.65" r="3.0"/>
<circle cx="1123.46" cy="151.71" r="3.0"/>
<circle cx="1124.7" cy="151.79" r="3.0"/>
<circle cx="1125.94" cy="151.9" r="3.0"/>
<circle cx="1127.18" cy="152.02" r="3.0"/>
<circle cx="1128.42" cy="152.16" r="3.0"/>
<circle cx="1129.65" cy="152.3" r="3.0"/>
<circle cx="1130.89" cy="152.44" r="3.0"/>
<circle cx="1132.13" cy="152.58" r="3.0"/>
<circle cx="1133.37" cy="152.71" r="3.0"/>
<circle cx="1134.61" cy="152.84" r="3.0"/>
<circle cx="1135.85" cy="153" r="3.0"/>
<circle cx="1137.09" cy="153.15" r="3.0"/>
<circle cx="1138.32" cy="153.29" r="3.0"/>
<circle cx="1139.56" cy="153.41" r="3.0"/>
<circle cx="1140.8" cy="153.48" r="3.0"/>
<circle cx="1142.04" cy="153.5" r="3.0"/>
<circle cx="1143.28" cy="153.5" r="3.0"/>
<circle cx="1144.52" cy="153.5" r="3.0"/>
<circle cx="1145.76" cy="153.5" r="3.0"/>
<circle cx="1146.99" cy="153.5" r="3.0"/>
<circle cx="1148.23" cy="153.5" r="3.0"/>
<circle cx="1149.47" cy="153.5" r="3.0"/>
<circle cx="1150.71" cy="153.52" r="3.0"/>
<circle cx="1151.95" cy="153.72" r="3.0"/>
<circle cx="1153.19" cy="154.11" r="3.0"/>
<circle cx="1154.43" cy="154.6" r="3.0"/>
<circle cx="1155.66" cy="155.11" r="3.0"/>
<circle cx="1156.9" cy="155.54" r="3.0"/>
<circle cx="1158.14" cy="155.9" r="3.0"/>
<circle cx="1159.38" cy="156.26" r="3.0"/>
<circle cx="1160.62" cy="156.62" r="3.0"/>
<circle cx="1161.86" cy="156.96" r="3.0"/>
<circle cx="1163.1" cy="157.28" r="3.0"/>
<circle cx="1164.33" cy="157.56" r="3.0"/>
<circle cx="1165.57" cy="157.8" r="3.0"/>
<circle cx="1166.81" cy="157.98" r="3.0"/>
<circle cx="1168.05" cy="158.13" r="3.0"/>
<circle cx="1169.29" cy="158.26" r="3.0"/>
<circle cx="1170.53" cy="158.38" r="3.0"/>
<circle cx="1171.77" cy="158.49" r="3.0"/>
<circle cx="1173" cy="158.62" r="3.0"/>
<circle cx="1174.24" cy="158.77" r="3.0"/>
<circle cx="1175.48" cy="158.95" r="3.0"/>
<circle cx="1176.72" cy="159.17" r="3.0"/>
<circle cx="1177.96" cy="159.43" r="3.0"/>
<circle cx="1179.2" cy="159.72" r="3.0"/>
<circle cx="1180.44" cy="160.06" r="3.0"/>
<circle cx="1181.68" cy="160.44" r="3.0"/>
<circle cx="1182.91" cy="160.85" r="3.0"/>
<circle cx="1184.15" cy="161.31" r="3.0"/>
<circle cx="1185.39" cy="161.8" r="3.0"/>
<circle cx="1186.63" cy="162.35" r="3.0"/>
<circle cx="1187.87" cy="163.08" r="3.0"/>
<circle cx="1189.11" cy="163.97" r="3.0"/>
<circle cx="1190.35" cy="164.95" r="3.0"/>
<circle cx="1191.58" cy="165.97" r="3.0"/>
<circle cx="1192.82" cy="166.95" r="3.0"/>
<circle cx="1194.06" cy="167.84" r="3.0"/>
<circle cx="1195.3" cy="168.64" r="3.0"/>
<circle cx="1196.54" cy="169.44" r="3.0"/>
<circle cx="1197.78" cy="170.23" r="3.0"/>
<circle cx="1199.02" cy="171" r="3.0"/>
<circle cx="1200.25" cy="171.75" r="3.0"/>
<circle cx="1201.49" cy="172.47" r="3.0"/>
<circle cx="1202.73" cy="173.13" r="3.0"/>
<circle cx="1203.97" cy="173.75" r="3.0"/>
<circle cx="1205.21" cy="174.3" r="3.0"/>
<circle cx="1206.45" cy="174.79" r="3.0"/>
<circle cx="1207.69" cy="175.23" r="3.0"/>
<circle cx="1208.92" cy="175.64" r="3.0"/>
<circle cx="1210.16" cy="176.02" r="3.0"/>
<circle cx="1211.4" cy="176.38" r="3.0"/>
<circle cx="1212.64" cy="176.72" r="3.0"/>
<circle cx="1213.88" cy="177.05" r="3.0"/>
<circle cx="1215.12" cy="177.37" r="3.0"/>
<circle cx="1216.36" cy="177.68" r="3.0"/>
<circle cx="1217.59" cy="178" r="3.0"/>
<circle cx="1218.83" cy="178.33" r="3.0"/>
<circle cx="1220.07" cy="178.66" r="3.0"/>
<circle cx="1221.31" cy="179.01" r="3.0"/>
<circle cx="1222.55" cy="179.39" r="3.0"/>
<circle cx="1223.79" cy="179.79" r="3.0"/>
<circle cx="1225.03" cy="180.2" r="3.0"/>
<circle cx="1226.26" cy="180.63" r="3.0"/>
<circle cx="1227.5" cy="181.06" r="3.0"/>
<circle cx="1228.74" cy="181.51" r="3.0"/>
<circle cx="1229.98" cy="181.96" r="3.0"/>
<circle cx="1231.22" cy="182.41" r="3.0"/>
<circle cx="1232.46" cy="182.86" r="3.0"/>
<circle cx="1233.7" cy="183.31" r="3.0"/>
<circle cx="1234.93" cy="183.75" r="3.0"/>
<circle cx="1236.17" cy="184.18" r="3.0"/>
<circle cx="1237.41" cy="184.61" r="3.0"/>
<circle cx="1238.65" cy="185.03" r="3.0"/>
<circle cx="1239.89" cy="185.45" r="3.0"/>
<circle cx="1241.13" cy="185.88" r="3.0"/>
<circle cx="1242.37" cy="186.3" r="3.0"/>
<circle cx="1243.61" cy="186.72" r="3.0"/>
<circle cx="1244.84" cy="187.13" r="3.0"/>
<circle cx="1246.08" cy="187.54" r="3.0"/>
<circle cx="1247.32" cy="187.94" r="3.0"/>
<circle cx="1248.56" cy="188.34" r="3.0"/>
<circle cx="1249.8" cy="188.72" r="3.0"/>
<circle cx="1251.04" cy="189.09" r="3.0"/>
<circle cx="1252.28" cy="189.46" r="3.0"/>
<circle cx="1253.51" cy="189.81" r="3.0"/>
<circle cx="1254.75" cy="190.16" r="3.0"/>
<circle cx="1255.99" cy="190.5" r="3.0"/>
<circle cx="1257.23" cy="190.83" r="3.0"/>
<circle cx="1258.47" cy="191.16" r="3.0"/>
<circle cx="1259.71" cy="191.49" r="3.0"/>
<circle cx="1260.95" cy="191.81" r="3.0"/>
<circle cx="1262.18" cy="192.12" r="3.0"/>
<circle cx="1263.42" cy="192.43" r="3.0"/>
<circle cx="1264.66" cy="192.74" r="3.0"/>
<circle cx="1265.9" cy="193.05" r="3.0"/>
<circle cx="1267.14" cy="193.35" r="3.0"/>
<circle cx="1268.38" cy="193.65" r="3.0"/>
<circle cx="1269.62" cy="193.94" r="3.0"/>
<circle cx="1270.85" cy="194.23" r="3.0"/>
<circle cx="1272.09" cy="194.51" r="3.0"/>
<circle cx="1273.33" cy="194.79" r="3.0"/>
<circle cx="1274.57" cy="195.08" r="3.0"/>
<circle cx="1275.81" cy="195.35" r="3.0"/>
<circle cx="1277.05" cy="195.63" r="3.0"/>
<circle cx="1278.29" cy="195.91" r="3.0"/>
<circle cx="1279.52" cy="196.19" r="3.0"/>
<circle cx="1280.76" cy="196.47" r="3.0"/>
<circle cx="1282" cy="196.76" r="3.0"/>
<circle cx="1283.24" cy="197.04" r="3.0"/>
<circle cx="1284.48" cy="197.32" r="3.0"/>
<circle cx="1285.72" cy="197.61" r="3.0"/>
<circle cx="1286.96" cy="197.89" r="3.0"/>
<circle cx="1288.19" cy="198.17" r="3.0"/>
<circle cx="1289.43" cy="198.45" r="3.0"/>
<circle cx="1290.67" cy="198.72" r="3.0"/>
<circle cx="1291.91" cy="198.99" r="3.0"/>
<circle cx="1293.15" cy="199.26" r="3.0"/>
<circle cx="1294.39" cy="199.52" r="3.0"/>
<circle cx="1295.63" cy="199.78" r="3.0"/>
<circle cx="1296.86" cy="200.03" r="3.0"/>
<circle cx="1298.1" cy="200.29" r="3.0"/>
<circle cx="1299.34" cy="200.54" r="3.0"/>
<circle cx="1300.58" cy="200.79" r="3.0"/>
<circle cx="1301.82" cy="201.04" r="3.0"/>
<circle cx="1303.06" cy="201.28" r="3.0"/>
<circle cx="1304.3" cy="201.52" r="3.0"/>
<circle cx="1305.54" cy="201.75" r="3.0"/>
<circle cx="1306.77" cy="201.98" r="3.0"/>
<circle cx="1308.01" cy="202.2" r="3.0"/>
<circle cx="1309.25" cy="202.41" r="3.0"/>
<circle cx="1310.49" cy="202.62" r="3.0"/>
<circle cx="1311.73" cy="202.82" r="3.0"/>
<circle cx="1312.97" cy="203.02" r="3.0"/>
<circle cx="1314.21" cy="203.22" r="3.0"/>
<circle cx="1315.44" cy="203.41" r="3.0"/>
<circle cx="1316.68" cy="203.6" r="3.0"/>
<circle cx="1317.92" cy="203.79" r="3.0"/>
<circle cx="1319.16" cy="203.97" r="3.0"/>
<circle cx="1320.4" cy="204.15" r="3.0"/>
<circle cx="1321.64" cy="204.32" r="3.0"/>
<circle cx="1322.88" cy="204.5" r="3.0"/>
<circle cx="1324.11" cy="204.67" r="3.0"/>
<circle cx="1325.35" cy="204.84" r="3.0"/>
<circle cx="1326.59" cy="205.01" r="3.0"/>
<circle cx="1327.83" cy="205.17" r="3.0"/>
<circle cx="1329.07" cy="205.34" r="3.0"/>
<circle cx="1330.31" cy="205.5" r="3.0"/>
<circle cx="1331.55" cy="205.66" r="3.0"/>
<circle cx="1332.78" cy="205.81" r="3.0"/>
<circle cx="1334.02" cy="205.96" r="3.0"/>
<circle cx="1335.26" cy="206.1" r="3.0"/>
<circle cx="1336.5" cy="206.24" r="3.0"/>
<circle cx="1337.74" cy="206.37" r="3.0"/>
<circle cx="1338.98" cy="206.49" r="3.0"/>
<circle cx="1340.22" cy="206.61" r="3.0"/>
<circle cx="1341.45" cy="206.72" r="3.0"/>
<circle cx="1342.69" cy="206.84" r="3.0"/>
<circle cx="1343.93" cy="206.94" r="3.0"/>
<circle cx="1345.17" cy="207.05" r="3.0"/>
<circle cx="1346.41" cy="207.16" r="3.0"/>
<circle cx="1347.65" cy="207.26" r="3.0"/>
<circle cx="1348.89" cy="207.37" r="3.0"/>
<circle cx="1350.12" cy="207.48" r="3.0"/>
<circle cx="1351.36" cy="207.6" r="3.0"/>
<circle cx="1352.6" cy="207.71" r="3.0"/>
<circle cx="1353.84" cy="207.84" r="3.0"/>
<circle cx="1355.08" cy="207.96" r="3.0"/>
<circle cx="1356.32" cy="208.08" r="3.0"/>
<circle cx="1357.56" cy="208.21" r="3.0"/>
<circle cx="1358.79" cy="208.33" r="3.0"/>
<circle cx="1360.03" cy="208.46" r="3.0"/>
<circle cx="1361.27" cy="208.58" r="3.0"/>
<circle cx="1362.51" cy="208.7" r="3.0"/>
<circle cx="1363.75" cy="208.82" r="3.0"/>
<circle cx="1364.99" cy="208.94" r="3.0"/>
<circle cx="1366.23" cy="209.05" r="3.0"/>
<circle cx="1367.47" cy="209.16" r="3.0"/>
<circle cx="1368.7" cy="209.27" r="3.0"/>
<circle cx="1369.94" cy="209.37" r="3.0"/>
<circle cx="1371.18" cy="209.48" r="3.0"/>
<circle cx="1372.42" cy="209.58" r="3.0"/>
<circle cx="1373.66" cy="209.69" r="3.0"/>
<circle cx="1374.9" cy="209.79" r="3.0"/>
<circle cx="1376.14" cy="209.89" r="3.0"/>
<circle cx="1377.37" cy="209.99" r="3.0"/>
<circle cx="1378.61" cy="210.09" r="3.0"/>
<circle cx="1379.85" cy="210.19" r="3.0"/>
<circle cx="1381.09" cy="210.29" r="3.0"/>
<circle cx="1382.33" cy="210.39" r="3.0"/>
<circle cx="1383.57" cy="210.48" r="3.0"/>
<circle cx="1384.81" cy="210.58" r="3.0"/>
<circle cx="1386.04" cy="210.68" r="3.0"/>
<circle cx="1387.28" cy="210.77" r="3.0"/>
<circle cx="1388.52" cy="210.87" r="3.0"/>
<circle cx="1389.76" cy="210.96" r="3.0"/>
<circle cx="1391" cy="211.06" r="3.0"/>
<circle cx="1392.24" cy="211.15" r="3.0"/>
<circle cx="1393.48" cy="211.24" r="3.0"/>
<circle cx="1394.71" cy="211.33" r="3.0"/>
<circle cx="1395.95" cy="211.42" r="3.0"/>
<circle cx="1397.19" cy="211.51" r="3.0"/>
<circle cx="1398.43" cy="211.6" r="3.0"/>
<circle cx="1399.67" cy="211.68" r="3.0"/>
<circle cx="1400.91" cy="211.77" r="3.0"/>
<circle cx="1402.15" cy="211.85" r="3.0"/>
<circle cx="1403.38" cy="211.94" r="3.0"/>
<circle cx="1404.62" cy="212.02" r="3.0"/>
<circle cx="1405.86" cy="212.11" r="3.0"/>
<circle cx="1407.1" cy="212.2" r="3.0"/>
<circle cx="1408.34" cy="212.28" r="3.0"/>
<circle cx="1409.58" cy="212.37" r="3.0"/>
<circle cx="1410.82" cy="212.46" r="3.0"/>
<circle cx="1412.05" cy="212.55" r="3.0"/>
<circle cx="1413.29" cy="212.64" r="3.0"/>
<circle cx="1414.53" cy="212.73" r="3.0"/>
<circle cx="1415.77" cy="212.82" r="3.0"/>
<circle cx="1417.01" cy="212.91" r="3.0"/>
<circle cx="1418.25" cy="213" r="3.0"/>
<circle cx="1419.49" cy="213.09" r="3.0"/>
<circle cx="1420.72" cy="213.17" r="3.0"/>
<circle cx="1421.96" cy="213.24" r="3.0"/>
<circle cx="1423.2" cy="213.32" r="3.0"/>
<circle cx="1424.44" cy="213.39" r="3.0"/>
<circle cx="1425.68" cy="213.46" r="3.0"/>
<circle cx="1426.92" cy="213.52" r="3.0"/>
<circle cx="1428.16" cy="213.59" r="3.0"/>
<circle cx="1429.4" cy="213.65" r="3.0"/>
<circle cx="1430.63" cy="213.71" r="3.0"/>
<circle cx="1431.87" cy="213.77" r="3.0"/>
<circle cx="1433.11" cy="213.83" r="3.0"/>
<circle cx="1434.35" cy="213.88" r="3.0"/>
<circle cx="1435.59" cy="213.94" r="3.0"/>
<circle cx="1436.83" cy="213.99" r="3.0"/>
<circle cx="1438.07" cy="214.04" r="3.0"/>
<circle cx="1439.3" cy="214.09" r="3.0"/>
<circle cx="1440.54" cy="214.13" r="3.0"/>
<circle cx="1441.78" cy="214.18" r="3.0"/>
<circle cx="1443.02" cy="214.22" r="3.0"/>
<circle cx="1444.26" cy="214.27" r="3.0"/>
<circle cx="1445.5" cy="214.31" r="3.0"/>
<circle cx="1446.74" cy="214.35" r="3.0"/>
<circle cx="1447.97" cy="214.39" r="3.0"/>
<circle cx="1449.21" cy="214.43" r="3.0"/>
<circle cx="1450.45" cy="214.47" r="3.0"/>
<circle cx="1451.69" cy="214.51" r="3.0"/>
<circle cx="1452.93" cy="214.55" r="3.0"/>
<circle cx="1454.17" cy="214.58" r="3.0"/>
<circle cx="1455.41" cy="214.62" r="3.0"/>
<circle cx="1456.64" cy="214.66" r="3.0"/>
<circle cx="1457.88" cy="214.69" r="3.0"/>
<circle cx="1459.12" cy="214.73" r="3.0"/>
<circle cx="1460.36" cy="214.76" r="3.0"/>
<circle cx="1461.6" cy="214.79" r="3.0"/>
<circle cx="1462.84" cy="214.83" r="3.0"/>
<circle cx="1464.08" cy="214.86" r="3.0"/>
<circle cx="1465.31" cy="214.89" r="3.0"/>
<circle cx="1466.55" cy="214.92" r="3.0"/>
<circle cx="1467.79" cy="214.95" r="3.0"/>
<circle cx="1469.03" cy="214.98" r="3.0"/>
<circle cx="1470.27" cy="215.01" r="3.0"/>
<circle cx="1471.51" cy="215.04" r="3.0"/>
<circle cx="1472.75" cy="215.06" r="3.0"/>
<circle cx="1473.98" cy="215.09" r="3.0"/>
<circle cx="1475.22" cy="215.12" r="3.0"/>
<circle cx="1476.46" cy="215.14" r="3.0"/>
<circle cx="1477.7" cy="215.17" r="3.0"/>
<circle cx="1478.94" cy="215.19" r="3.0"/>
<circle cx="1480.18" cy="215.22" r="3.0"/>
<circle cx="1481.42" cy="215.24" r="3.0"/>
<circle cx="1482.65" cy="215.27" r="3.0"/>
<circle cx="1483.89" cy="215.29" r="3.0"/>
</g>
<path d="M798.7 465.2 L799.57 464.76 L799.69 464.29 L799.8 463.6 L799.92 462.67 L800.04 461.51 L800.16 460.14 L800.28 458.59 L800.4 456.87 L800.52 455.02 L800.64 453.06 L800.76 451.01 L800.87 448.9 L800.99 446.75 L801.11 444.56 L801.23 442.35 L801.35 440.14 L801.47 437.93 L801.59 435.74 L801.71 433.56 L801.83 431.4 L801.94 429.27 L802.06 427.17 L802.18 425.1 L802.3 423.06 L802.42 421.07 L802.54 419.11 L802.66 417.19 L802.78 415.31 L802.9 413.47 L803.01 411.66 L803.13 409.9 L803.25 408.17 L803.37 406.48 L803.49 404.83 L803.61 403.22 L803.73 401.64 L803.85 400.1 L803.97 398.59 L804.08 397.11 L804.2 395.67 L804.32 394.26 L804.44 392.89 L804.56 391.54 L804.68 390.22 L804.8 388.93 L804.92 387.67 L805.04 386.44 L805.15 385.24 L805.27 384.06 L805.39 382.9 L805.51 381.77 L805.63 380.67 L805.75 379.59 L805.87 378.53 L805.99 377.49 L806.1 376.47 L806.22 375.48 L806.34 374.5 L806.46 373.55 L806.58 372.61 L806.7 371.7 L806.82 370.8 L806.94 369.91 L807.06 369.05 L807.17 368.2 L807.29 367.37 L807.41 366.55 L807.53 365.75 L807.65 364.97 L807.77 364.19 L807.89 363.44 L808.01 362.69 L808.13 361.96 L808.24 361.25 L808.36 360.54 L808.48 359.85 L808.6 359.17 L808.72 358.5 L808.84 357.85 L808.96 357.2 L809.08 356.57 L809.2 355.95 L809.31 355.33 L809.43 354.73 L809.55 354.14 L809.67 353.55 L809.79 352.98 L809.91 352.42 L810.03 351.86 L810.15 351.31 L810.27 350.78 L810.38 350.25 L810.5 349.72 L810.62 349.21 L810.74 348.71 L810.86 348.21 L810.98 347.72 L811.1 347.24 L811.22 346.76 L811.34 346.29 L811.45 345.83 L811.57 345.37 L811.69 344.92 L811.81 344.48 L811.93 344.05 L812.05 343.62 L812.17 343.19 L812.29 342.78 L812.41 342.36 L812.52 341.96 L812.64 341.56 L812.76 341.16 L812.88 340.77 L813 340.39 L813.12 340.01 L813.24 339.63 L813.36 339.26 L813.48 338.9 L813.59 338.54 L813.71 338.18 L813.83 337.83 L813.95 337.48 L814.07 337.14 L814.19 336.8 L814.31 336.47 L814.43 336.14 L814.54 335.81 L814.66 335.49 L814.78 335.18 L814.9 334.86 L815.02 334.55 L815.14 334.25 L815.26 333.94 L815.38 333.64 L815.5 333.35 L815.61 333.06 L815.73 332.77 L815.85 332.48 L815.97 332.2 L816.09 331.92 L816.21 331.65 L816.33 331.37 L816.45 331.1 L816.57 330.84 L816.68 330.57 L816.8 330.31 L816.92 330.05 L817.04 329.8 L817.16 329.55 L817.28 329.3 L819.16 325.68 L821.04 322.59 L822.92 319.91 L824.79 317.56 L826.67 315.49 L828.55 313.65 L830.43 312 L832.31 310.51 L834.19 309.15 L836.07 307.92 L837.95 306.79 L839.82 305.74 L841.7 304.78 L843.58 303.88 L845.46 303.04 L847.34 302.26 L849.22 301.53 L851.1 300.84 L852.98 300.19 L854.85 299.58 L856.73 299 L858.61 298.45 L860.49 297.92 L862.37 297.42 L864.25 296.94 L866.13 296.49 L868.01 296.05 L869.88 295.63 L871.76 295.22 L873.64 294.84 L875.52 294.46 L877.4 294.1 L879.28 293.75 L881.16 293.41 L883.04 293.09 L884.91 292.77 L886.79 292.46 L888.67 292.16 L890.55 291.87 L892.43 291.59 L894.31 291.31 L896.19 291.04 L898.07 290.78 L899.95 290.53 L901.82 290.28 L903.7 290.03 L905.58 289.79 L907.46 289.56 L909.34 289.33 L911.22 289.1 L913.1 288.88 L914.98 288.67 L916.85 288.46 L918.73 288.25 L920.61 288.04 L922.49 287.84 L924.37 287.64 L926.25 287.45 L928.13 287.25 L930.01 287.06 L931.88 286.88 L933.76 286.69 L935.64 286.51 L937.52 286.33 L939.4 286.16 L941.28 285.98 L943.16 285.81 L945.04 285.64 L946.91 285.47 L948.79 285.3 L950.67 285.14 L952.55 284.97 L954.43 284.81 L956.31 284.65 L958.19 284.5 L960.07 284.34 L961.94 284.19 L963.82 284.03 L965.7 283.88 L967.58 283.73 L969.46 283.58 L971.34 283.43 L973.22 283.28 L975.1 283.14 L976.97 282.99 L978.85 282.85 L980.73 282.71 L982.61 282.57 L984.49 282.43" stroke="#ff7f00" stroke-width="3.0" stroke-linecap="square"/>
<path d="M798.7 465.2 L799.57 464.76 L799.69 464.29 L799.8 463.59 L799.92 462.65 L800.04 461.48 L800.16 460.1 L800.28 458.53 L800.4 456.8 L800.52 454.94 L800.64 452.97 L800.76 450.91 L800.87 448.78 L800.99 446.61 L801.11 444.41 L801.23 442.19 L801.35 439.97 L801.47 437.75 L801.59 435.54 L801.71 433.34 L801.83 431.17 L801.94 429.03 L802.06 426.92 L802.18 424.84 L802.3 422.8 L802.42 420.79 L802.54 418.82 L802.66 416.89 L802.78 415 L802.9 413.15 L803.01 411.34 L803.13 409.57 L803.25 407.84 L803.37 406.14 L803.49 404.48 L803.61 402.86 L803.73 401.28 L803.85 399.73 L803.97 398.22 L804.08 396.74 L804.2 395.29 L804.32 393.88 L804.44 392.5 L804.56 391.15 L804.68 389.83 L804.8 388.53 L804.92 387.27 L805.04 386.04 L805.15 384.83 L805.27 383.65 L805.39 382.49 L805.51 381.36 L805.63 380.25 L805.75 379.17 L805.87 378.11 L805.99 377.07 L806.1 376.05 L806.22 375.05 L806.34 374.08 L806.46 373.12 L806.58 372.18 L806.7 371.27 L806.82 370.37 L806.94 369.48 L807.06 368.62 L807.17 367.77 L807.29 366.94 L807.41 366.12 L807.53 365.32 L807.65 364.54 L807.77 363.76 L807.89 363.01 L808.01 362.26 L808.13 361.54 L808.24 360.82 L808.36 360.12 L808.48 359.43 L808.6 358.75 L808.72 358.08 L808.84 357.43 L808.96 356.78 L809.08 356.15 L809.2 355.53 L809.31 354.92 L809.43 354.32 L809.55 353.72 L809.67 353.14 L809.79 352.57 L809.91 352.01 L810.03 351.46 L810.15 350.91 L810.27 350.37 L810.38 349.85 L810.5 349.33 L810.62 348.82 L810.74 348.31 L810.86 347.82 L810.98 347.33 L811.1 346.85 L811.22 346.38 L811.34 345.91 L811.45 345.45 L811.57 345 L811.69 344.55 L811.81 344.11 L811.93 343.68 L812.05 343.25 L812.17 342.83 L812.29 342.42 L812.41 342.01 L812.52 341.61 L812.64 341.21 L812.76 340.82 L812.88 340.43 L813 340.05 L813.12 339.67 L813.24 339.3 L813.36 338.93 L813.48 338.57 L813.59 338.21 L813.71 337.86 L813.83 337.51 L813.95 337.17 L814.07 336.83 L814.19 336.5 L814.31 336.17 L814.43 335.84 L814.54 335.52 L814.66 335.2 L814.78 334.89 L814.9 334.58 L815.02 334.27 L815.14 333.97 L815.26 333.67 L815.38 333.38 L815.5 333.08 L815.61 332.8 L815.73 332.51 L815.85 332.23 L815.97 331.95 L816.09 331.68 L816.21 331.4 L816.33 331.14 L816.45 330.87 L816.57 330.61 L816.68 330.35 L816.8 330.09 L816.92 329.84 L817.04 329.59 L817.16 329.34 L817.28 329.09 L819.16 325.54 L821.04 322.52 L822.92 319.91 L824.79 317.64 L826.67 315.65 L828.55 313.89 L830.43 312.32 L832.31 310.91 L834.19 309.64 L836.07 308.48 L837.95 307.44 L839.82 306.48 L841.7 305.59 L843.58 304.78 L845.46 304.03 L847.34 303.34 L849.22 302.69 L851.1 302.09 L852.98 301.53 L854.85 301 L856.73 300.51 L858.61 300.04 L860.49 299.61 L862.37 299.19 L864.25 298.8 L866.13 298.43 L868.01 298.09 L869.88 297.75 L871.76 297.44 L873.64 297.14 L875.52 296.85 L877.4 296.58 L879.28 296.32 L881.16 296.07 L883.04 295.83 L884.91 295.6 L886.79 295.38 L888.67 295.17 L890.55 294.97 L892.43 294.78 L894.31 294.59 L896.19 294.41 L898.07 294.24 L899.95 294.08 L901.82 293.91 L903.7 293.76 L905.58 293.61 L907.46 293.47 L909.34 293.33 L911.22 293.19 L913.1 293.06 L914.98 292.93 L916.85 292.81 L918.73 292.69 L920.61 292.58 L922.49 292.46 L924.37 292.36 L926.25 292.25 L928.13 292.15 L930.01 292.05 L931.88 291.95 L933.76 291.86 L935.64 291.76 L937.52 291.68 L939.4 291.59 L941.28 291.5 L943.16 291.42 L945.04 291.34 L946.91 291.26 L948.79 291.19 L950.67 291.11 L952.55 291.04 L954.43 290.97 L956.31 290.9 L958.19 290.83 L960.07 290.76 L961.94 290.7 L963.82 290.63 L965.7 290.57 L967.58 290.51 L969.46 290.45 L971.34 290.39 L973.22 290.34 L975.1 290.28 L976.97 290.23 L978.85 290.17 L980.73 290.12 L982.61 290.07 L984.49 290.02" stroke="#984ea3" stroke-width="3.0" stroke-linecap="square"/>
</g>
<path d="M910.4 466 V41.5" stroke="#000" stroke-width="1.3" stroke-dasharray="6.6 6.87" fill="none"/>
<text transform="translate(907.4 53.7) rotate(-90)" font-size="34.6" text-anchor="end" fill="#000">90 au</text>
<g font-size="27" fill="#000" text-anchor="middle">
<text x="798.1" y="495.5">0</text>
<text x="921.9" y="495.5">100</text>
<text x="1045.7" y="495.5">200</text>
<text x="1169.5" y="495.5">300</text>
<text x="1293.3" y="495.5">400</text>
<text x="1417.1" y="495.5">500</text>
<text x="1136" y="537">Distance from Sun (au)</text>
</g>
<text x="1136" y="24.7" font-size="34" font-weight="bold" text-anchor="middle" fill="#000">Model B</text>
</g>
<g id="p02">
<path d="M1487.5 465.5 v-8 M1487.5 41.5 v8 M1512.5 465.5 v-4.8 M1512.5 41.5 v4.8 M1537 465.5 v-4.8 M1537 41.5 v4.8 M1562 465.5 v-4.8 M1562 41.5 v4.8 M1586.5 465.5 v-4.8 M1586.5 41.5 v4.8 M1611.5 465.5 v-8 M1611.5 41.5 v8 M1636 465.5 v-4.8 M1636 41.5 v4.8 M1661 465.5 v-4.8 M1661 41.5 v4.8 M1685.5 465.5 v-4.8 M1685.5 41.5 v4.8 M1710.5 465.5 v-4.8 M1710.5 41.5 v4.8 M1735 465.5 v-8 M1735 41.5 v8 M1760 465.5 v-4.8 M1760 41.5 v4.8 M1784.5 465.5 v-4.8 M1784.5 41.5 v4.8 M1809.5 465.5 v-4.8 M1809.5 41.5 v4.8 M1834 465.5 v-4.8 M1834 41.5 v4.8 M1859 465.5 v-8 M1859 41.5 v8 M1883.5 465.5 v-4.8 M1883.5 41.5 v4.8 M1908.5 465.5 v-4.8 M1908.5 41.5 v4.8 M1933 465.5 v-4.8 M1933 41.5 v4.8 M1958 465.5 v-4.8 M1958 41.5 v4.8 M1982.5 465.5 v-8 M1982.5 41.5 v8 M2007.5 465.5 v-4.8 M2007.5 41.5 v4.8 M2032 465.5 v-4.8 M2032 41.5 v4.8 M2057 465.5 v-4.8 M2057 41.5 v4.8 M2081.5 465.5 v-4.8 M2081.5 41.5 v4.8 M2106.5 465.5 v-8 M2106.5 41.5 v8 M2131.5 465.5 v-4.8 M2131.5 41.5 v4.8 M2156 465.5 v-4.8 M2156 41.5 v4.8 M1481.5 452 h4.8 M2168.5 452 h-4.8 M1481.5 438 h4.8 M2168.5 438 h-4.8 M1481.5 424.5 h4.8 M2168.5 424.5 h-4.8 M1481.5 410.5 h4.8 M2168.5 410.5 h-4.8 M1481.5 397 h8 M2168.5 397 h-8 M1481.5 383.5 h4.8 M2168.5 383.5 h-4.8 M1481.5 369.5 h4.8 M2168.5 369.5 h-4.8 M1481.5 356 h4.8 M2168.5 356 h-4.8 M1481.5 342 h4.8 M2168.5 342 h-4.8 M1481.5 328.5 h8 M2168.5 328.5 h-8 M1481.5 315 h4.8 M2168.5 315 h-4.8 M1481.5 301 h4.8 M2168.5 301 h-4.8 M1481.5 287.5 h4.8 M2168.5 287.5 h-4.8 M1481.5 273.5 h4.8 M2168.5 273.5 h-4.8 M1481.5 260 h8 M2168.5 260 h-8 M1481.5 246.5 h4.8 M2168.5 246.5 h-4.8 M1481.5 232.5 h4.8 M2168.5 232.5 h-4.8 M1481.5 219 h4.8 M2168.5 219 h-4.8 M1481.5 205 h4.8 M2168.5 205 h-4.8 M1481.5 191.5 h8 M2168.5 191.5 h-8 M1481.5 178 h4.8 M2168.5 178 h-4.8 M1481.5 164 h4.8 M2168.5 164 h-4.8 M1481.5 150.5 h4.8 M2168.5 150.5 h-4.8 M1481.5 136.5 h4.8 M2168.5 136.5 h-4.8 M1481.5 123 h8 M2168.5 123 h-8 M1481.5 109.5 h4.8 M2168.5 109.5 h-4.8 M1481.5 95.5 h4.8 M2168.5 95.5 h-4.8 M1481.5 82 h4.8 M2168.5 82 h-4.8 M1481.5 68 h4.8 M2168.5 68 h-4.8 M1481.5 54.5 h8 M2168.5 54.5 h-8" stroke="#000" stroke-opacity="0.62" stroke-width="1" fill="none"/>
<rect x="1481.5" y="41.5" width="687" height="424" fill="none" stroke="#000" stroke-opacity="0.56" stroke-width="1"/>
<clipPath id="c02"><rect x="1481.5" y="41.5" width="687.3" height="424.5"/></clipPath>
<g clip-path="url(#c02)" fill="none" stroke-linejoin="round" stroke-linecap="butt">
<path d="M1488.94 464.24 L1491.29 409.2 L1495.01 370.45 L1499.92 348 L1506.28 333.77 L1512.47 324.73 L1518.66 317.61 L1524.86 314.19 L1531.05 310.49 L1537.24 307.89 L1543.44 305.15 L1556.94 299.81 L1570.19 293.11 L1583.69 290.23 L1597.44 283.66 L1611.1 276.9 L1625.2 267 L1640 243.5 L1654.5 219.9 L1669.3 199.8 L1684.6 186.1 L1700 175.1 L1715.5 167.9 L1731.6 162.8 L1747.8 160.1 L1764.3 160.6 L1781 161.5 L1798 164 L1815.1 167.4 L1832.9 171.7 L1850.7 176.8 L1868.8 183.2 L1887.5 190.1 L1906.3 195.4 L1925.4 201.1 L1945 206.7 L1964.7 211.3 L1984.9 215.8 L2005.3 219.9 L2026.1 223 L2047.3 224.9 L2068.7 226.5 L2090.7 227.1 L2112.7 227.7 L2135.5 228 L2158.5 228 L2182 228.1" stroke="#4daf4a" stroke-width="2.6"/>
<g fill="#4daf4a" stroke="none">
<circle cx="1488.94" cy="465.14" r="3.0"/>
<circle cx="1491.29" cy="410.1" r="3.0"/>
<circle cx="1495.01" cy="371.35" r="3.0"/>
<circle cx="1499.92" cy="348.9" r="3.0"/>
<circle cx="1506.28" cy="334.67" r="3.0"/>
<circle cx="1512.47" cy="325.63" r="3.0"/>
<circle cx="1518.66" cy="318.51" r="3.0"/>
<circle cx="1524.86" cy="315.09" r="3.0"/>
<circle cx="1531.05" cy="311.39" r="3.0"/>
<circle cx="1537.24" cy="308.79" r="3.0"/>
<circle cx="1543.44" cy="306.05" r="3.0"/>
<circle cx="1556.94" cy="300.71" r="3.0"/>
<circle cx="1570.19" cy="294.01" r="3.0"/>
<circle cx="1583.69" cy="291.13" r="3.0"/>
<circle cx="1597.44" cy="284.56" r="3.0"/>
<circle cx="1611.1" cy="277.8" r="3.0"/>
<circle cx="1625.2" cy="267.9" r="3.0"/>
<circle cx="1640" cy="244.4" r="3.0"/>
<circle cx="1654.5" cy="220.8" r="3.0"/>
<circle cx="1669.3" cy="200.7" r="3.0"/>
<circle cx="1684.6" cy="187" r="3.0"/>
<circle cx="1700" cy="176" r="3.0"/>
<circle cx="1715.5" cy="168.8" r="3.0"/>
<circle cx="1731.6" cy="163.7" r="3.0"/>
<circle cx="1747.8" cy="161" r="3.0"/>
<circle cx="1764.3" cy="161.5" r="3.0"/>
<circle cx="1781" cy="162.4" r="3.0"/>
<circle cx="1798" cy="164.9" r="3.0"/>
<circle cx="1815.1" cy="168.3" r="3.0"/>
<circle cx="1832.9" cy="172.6" r="3.0"/>
<circle cx="1850.7" cy="177.7" r="3.0"/>
<circle cx="1868.8" cy="184.1" r="3.0"/>
<circle cx="1887.5" cy="191" r="3.0"/>
<circle cx="1906.3" cy="196.3" r="3.0"/>
<circle cx="1925.4" cy="202" r="3.0"/>
<circle cx="1945" cy="207.6" r="3.0"/>
<circle cx="1964.7" cy="212.2" r="3.0"/>
<circle cx="1984.9" cy="216.7" r="3.0"/>
<circle cx="2005.3" cy="220.8" r="3.0"/>
<circle cx="2026.1" cy="223.9" r="3.0"/>
<circle cx="2047.3" cy="225.8" r="3.0"/>
<circle cx="2068.7" cy="227.4" r="3.0"/>
<circle cx="2090.7" cy="228" r="3.0"/>
<circle cx="2112.7" cy="228.6" r="3.0"/>
<circle cx="2135.5" cy="228.9" r="3.0"/>
<circle cx="2158.5" cy="228.9" r="3.0"/>
</g>
<path d="M1487.7 465.2 L1488.57 464.8 L1488.69 464.38 L1488.8 463.74 L1488.92 462.89 L1489.04 461.83 L1489.16 460.57 L1489.28 459.13 L1489.4 457.55 L1489.52 455.84 L1489.64 454.02 L1489.76 452.13 L1489.87 450.17 L1489.99 448.17 L1490.11 446.14 L1490.23 444.09 L1490.35 442.03 L1490.47 439.97 L1490.59 437.93 L1490.71 435.9 L1490.83 433.88 L1490.94 431.89 L1491.06 429.93 L1491.18 428 L1491.3 426.1 L1491.42 424.24 L1491.54 422.4 L1491.66 420.61 L1491.78 418.84 L1491.9 417.12 L1492.01 415.43 L1492.13 413.77 L1492.25 412.15 L1492.37 410.57 L1492.49 409.02 L1492.61 407.5 L1492.73 406.02 L1492.85 404.57 L1492.97 403.15 L1493.08 401.76 L1493.2 400.41 L1493.32 399.08 L1493.44 397.78 L1493.56 396.51 L1493.68 395.27 L1493.8 394.06 L1493.92 392.87 L1494.04 391.7 L1494.15 390.57 L1494.27 389.45 L1494.39 388.36 L1494.51 387.29 L1494.63 386.25 L1494.75 385.22 L1494.87 384.22 L1494.99 383.24 L1495.1 382.27 L1495.22 381.33 L1495.34 380.4 L1495.46 379.5 L1495.58 378.61 L1495.7 377.74 L1495.82 376.88 L1495.94 376.04 L1496.06 375.22 L1496.17 374.41 L1496.29 373.62 L1496.41 372.84 L1496.53 372.08 L1496.65 371.33 L1496.77 370.59 L1496.89 369.87 L1497.01 369.16 L1497.13 368.46 L1497.24 367.77 L1497.36 367.1 L1497.48 366.44 L1497.6 365.79 L1497.72 365.15 L1497.84 364.52 L1497.96 363.9 L1498.08 363.29 L1498.2 362.69 L1498.31 362.1 L1498.43 361.52 L1498.55 360.95 L1498.67 360.39 L1498.79 359.84 L1498.91 359.3 L1499.03 358.76 L1499.15 358.23 L1499.27 357.71 L1499.38 357.2 L1499.5 356.7 L1499.62 356.2 L1499.74 355.71 L1499.86 355.23 L1499.98 354.76 L1500.1 354.29 L1500.22 353.83 L1500.34 353.37 L1500.45 352.92 L1500.57 352.48 L1500.69 352.04 L1500.81 351.61 L1500.93 351.19 L1501.05 350.77 L1501.17 350.36 L1501.29 349.95 L1501.41 349.55 L1501.52 349.15 L1501.64 348.76 L1501.76 348.37 L1501.88 347.99 L1502 347.61 L1502.12 347.24 L1502.24 346.88 L1502.36 346.51 L1502.48 346.15 L1502.59 345.8 L1502.71 345.45 L1502.83 345.11 L1502.95 344.76 L1503.07 344.43 L1503.19 344.09 L1503.31 343.76 L1503.43 343.44 L1503.54 343.12 L1503.66 342.8 L1503.78 342.49 L1503.9 342.18 L1504.02 341.87 L1504.14 341.56 L1504.26 341.26 L1504.38 340.97 L1504.5 340.67 L1504.61 340.38 L1504.73 340.1 L1504.85 339.81 L1504.97 339.53 L1505.09 339.25 L1505.21 338.98 L1505.33 338.7 L1505.45 338.44 L1505.57 338.17 L1505.68 337.9 L1505.8 337.64 L1505.92 337.38 L1506.04 337.13 L1506.16 336.88 L1506.28 336.62 L1508.16 332.96 L1510.04 329.79 L1511.92 327.01 L1513.79 324.53 L1515.67 322.32 L1517.55 320.31 L1519.43 318.49 L1521.31 316.81 L1523.19 315.26 L1525.07 313.82 L1526.95 312.48 L1528.82 311.22 L1530.7 310.03 L1532.58 308.91 L1534.46 307.84 L1536.34 306.83 L1538.22 305.86 L1540.1 304.93 L1541.98 304.04 L1543.85 303.18 L1545.73 302.35 L1547.61 301.55 L1549.49 300.78 L1551.37 300.02 L1553.25 299.29 L1555.13 298.58 L1557.01 297.89 L1558.88 297.21 L1560.76 296.55 L1562.64 295.9 L1564.52 295.26 L1566.4 294.64 L1568.28 294.03 L1570.16 293.43 L1572.04 292.84 L1573.91 292.25 L1575.79 291.68 L1577.67 291.12 L1579.55 290.56 L1581.43 290.01 L1583.31 289.47 L1585.19 288.93 L1587.07 288.4 L1588.95 287.88 L1590.82 287.36 L1592.7 286.84 L1594.58 286.34 L1596.46 285.83 L1598.34 285.33 L1600.22 284.84 L1602.1 284.34 L1603.98 283.86 L1605.85 283.37 L1607.73 282.89 L1609.61 282.42 L1611.49 281.94 L1613.37 281.47 L1615.25 281 L1617.13 280.54 L1619.01 280.08 L1620.88 279.62 L1622.76 279.16 L1624.64 278.7 L1626.52 278.25 L1628.4 277.8 L1630.28 277.35 L1632.16 276.91 L1634.04 276.46 L1635.91 276.02 L1637.79 275.58 L1639.67 275.14 L1641.55 274.7 L1643.43 274.26 L1645.31 273.83 L1647.19 273.4 L1649.07 272.97 L1650.94 272.54 L1652.82 272.11 L1654.7 271.68 L1656.58 271.25 L1658.46 270.83 L1660.34 270.4 L1662.22 269.98 L1664.1 269.56 L1665.97 269.14 L1667.85 268.72 L1669.73 268.3 L1671.61 267.88 L1673.49 267.47" stroke="#ff7f00" stroke-width="3.0" stroke-linecap="square"/>
<path d="M1487.7 465.2 L1488.57 464.74 L1488.69 464.25 L1488.8 463.54 L1488.92 462.59 L1489.04 461.41 L1489.16 460.03 L1489.28 458.46 L1489.4 456.73 L1489.52 454.88 L1489.64 452.92 L1489.76 450.88 L1489.87 448.77 L1489.99 446.63 L1490.11 444.46 L1490.23 442.27 L1490.35 440.08 L1490.47 437.89 L1490.59 435.72 L1490.71 433.57 L1490.83 431.44 L1490.94 429.34 L1491.06 427.27 L1491.18 425.23 L1491.3 423.23 L1491.42 421.27 L1491.54 419.35 L1491.66 417.46 L1491.78 415.62 L1491.9 413.81 L1492.01 412.04 L1492.13 410.31 L1492.25 408.62 L1492.37 406.97 L1492.49 405.35 L1492.61 403.78 L1492.73 402.23 L1492.85 400.73 L1492.97 399.25 L1493.08 397.81 L1493.2 396.41 L1493.32 395.03 L1493.44 393.69 L1493.56 392.37 L1493.68 391.09 L1493.8 389.84 L1493.92 388.61 L1494.04 387.41 L1494.15 386.24 L1494.27 385.09 L1494.39 383.96 L1494.51 382.87 L1494.63 381.79 L1494.75 380.74 L1494.87 379.71 L1494.99 378.7 L1495.1 377.71 L1495.22 376.75 L1495.34 375.8 L1495.46 374.87 L1495.58 373.97 L1495.7 373.08 L1495.82 372.2 L1495.94 371.35 L1496.06 370.51 L1496.17 369.69 L1496.29 368.88 L1496.41 368.09 L1496.53 367.31 L1496.65 366.55 L1496.77 365.81 L1496.89 365.07 L1497.01 364.35 L1497.13 363.65 L1497.24 362.96 L1497.36 362.27 L1497.48 361.61 L1497.6 360.95 L1497.72 360.3 L1497.84 359.67 L1497.96 359.05 L1498.08 358.43 L1498.2 357.83 L1498.31 357.24 L1498.43 356.66 L1498.55 356.09 L1498.67 355.53 L1498.79 354.97 L1498.91 354.43 L1499.03 353.89 L1499.15 353.37 L1499.27 352.85 L1499.38 352.34 L1499.5 351.84 L1499.62 351.34 L1499.74 350.86 L1499.86 350.38 L1499.98 349.9 L1500.1 349.44 L1500.22 348.98 L1500.34 348.53 L1500.45 348.09 L1500.57 347.65 L1500.69 347.22 L1500.81 346.79 L1500.93 346.38 L1501.05 345.96 L1501.17 345.56 L1501.29 345.16 L1501.41 344.76 L1501.52 344.37 L1501.64 343.99 L1501.76 343.61 L1501.88 343.23 L1502 342.86 L1502.12 342.5 L1502.24 342.14 L1502.36 341.79 L1502.48 341.44 L1502.59 341.09 L1502.71 340.75 L1502.83 340.42 L1502.95 340.09 L1503.07 339.76 L1503.19 339.44 L1503.31 339.12 L1503.43 338.8 L1503.54 338.49 L1503.66 338.18 L1503.78 337.88 L1503.9 337.58 L1504.02 337.29 L1504.14 336.99 L1504.26 336.7 L1504.38 336.42 L1504.5 336.14 L1504.61 335.86 L1504.73 335.58 L1504.85 335.31 L1504.97 335.04 L1505.09 334.78 L1505.21 334.52 L1505.33 334.26 L1505.45 334 L1505.57 333.75 L1505.68 333.5 L1505.8 333.25 L1505.92 333 L1506.04 332.76 L1506.16 332.52 L1506.28 332.28 L1508.16 328.86 L1510.04 325.94 L1511.92 323.43 L1513.79 321.24 L1515.67 319.32 L1517.55 317.62 L1519.43 316.1 L1521.31 314.74 L1523.19 313.52 L1525.07 312.41 L1526.95 311.4 L1528.82 310.47 L1530.7 309.62 L1532.58 308.84 L1534.46 308.12 L1536.34 307.45 L1538.22 306.83 L1540.1 306.25 L1541.98 305.7 L1543.85 305.2 L1545.73 304.72 L1547.61 304.27 L1549.49 303.85 L1551.37 303.46 L1553.25 303.08 L1555.13 302.73 L1557.01 302.39 L1558.88 302.07 L1560.76 301.77 L1562.64 301.48 L1564.52 301.2 L1566.4 300.94 L1568.28 300.69 L1570.16 300.45 L1572.04 300.22 L1573.91 300 L1575.79 299.79 L1577.67 299.59 L1579.55 299.39 L1581.43 299.21 L1583.31 299.03 L1585.19 298.85 L1587.07 298.69 L1588.95 298.53 L1590.82 298.37 L1592.7 298.22 L1594.58 298.08 L1596.46 297.94 L1598.34 297.81 L1600.22 297.68 L1602.1 297.55 L1603.98 297.43 L1605.85 297.31 L1607.73 297.2 L1609.61 297.08 L1611.49 296.98 L1613.37 296.87 L1615.25 296.77 L1617.13 296.67 L1619.01 296.58 L1620.88 296.48 L1622.76 296.39 L1624.64 296.3 L1626.52 296.22 L1628.4 296.13 L1630.28 296.05 L1632.16 295.97 L1634.04 295.9 L1635.91 295.82 L1637.79 295.75 L1639.67 295.67 L1641.55 295.6 L1643.43 295.54 L1645.31 295.47 L1647.19 295.4 L1649.07 295.34 L1650.94 295.28 L1652.82 295.22 L1654.7 295.16 L1656.58 295.1 L1658.46 295.04 L1660.34 294.98 L1662.22 294.93 L1664.1 294.88 L1665.97 294.82 L1667.85 294.77 L1669.73 294.72 L1671.61 294.67 L1673.49 294.63" stroke="#984ea3" stroke-width="3.0" stroke-linecap="square"/>
</g>
<path d="M1599 466 V41.5" stroke="#000" stroke-width="1.3" stroke-dasharray="6.6 6.87" fill="none"/>
<text transform="translate(1596 53.7) rotate(-90)" font-size="34.6" text-anchor="end" fill="#000">90 au</text>
<g font-size="27" fill="#000" text-anchor="middle">
<text x="1487" y="495.5">0</text>
<text x="1610.8" y="495.5">100</text>
<text x="1734.6" y="495.5">200</text>
<text x="1858.4" y="495.5">300</text>
<text x="1982.2" y="495.5">400</text>
<text x="2106" y="495.5">500</text>
<text x="1825" y="537">Distance from Sun (au)</text>
</g>
<text x="1825" y="24.7" font-size="34" font-weight="bold" text-anchor="middle" fill="#000">Model C</text>
</g>
<g id="p10">
<path d="M109.5 980 v-8 M109.5 555.5 v8 M145.5 980 v-4.8 M145.5 555.5 v4.8 M181.5 980 v-4.8 M181.5 555.5 v4.8 M217 980 v-4.8 M217 555.5 v4.8 M253 980 v-8 M253 555.5 v8 M289 980 v-4.8 M289 555.5 v4.8 M325 980 v-4.8 M325 555.5 v4.8 M360.5 980 v-4.8 M360.5 555.5 v4.8 M396.5 980 v-8 M396.5 555.5 v8 M432.5 980 v-4.8 M432.5 555.5 v4.8 M468.5 980 v-4.8 M468.5 555.5 v4.8 M504 980 v-4.8 M504 555.5 v4.8 M540 980 v-8 M540 555.5 v8 M576 980 v-4.8 M576 555.5 v4.8 M612 980 v-4.8 M612 555.5 v4.8 M647.5 980 v-4.8 M647.5 555.5 v4.8 M683.5 980 v-8 M683.5 555.5 v8 M719.5 980 v-4.8 M719.5 555.5 v4.8 M755.5 980 v-4.8 M755.5 555.5 v4.8 M791 980 v-4.8 M791 555.5 v4.8 M103.5 965.5 h4.8 M791 965.5 h-4.8 M103.5 950.5 h4.8 M791 950.5 h-4.8 M103.5 936 h4.8 M791 936 h-4.8 M103.5 921.5 h8 M791 921.5 h-8 M103.5 907 h4.8 M791 907 h-4.8 M103.5 892 h4.8 M791 892 h-4.8 M103.5 877.5 h4.8 M791 877.5 h-4.8 M103.5 863 h8 M791 863 h-8 M103.5 848 h4.8 M791 848 h-4.8 M103.5 833.5 h4.8 M791 833.5 h-4.8 M103.5 819 h4.8 M791 819 h-4.8 M103.5 804.5 h8 M791 804.5 h-8 M103.5 789.5 h4.8 M791 789.5 h-4.8 M103.5 775 h4.8 M791 775 h-4.8 M103.5 760.5 h4.8 M791 760.5 h-4.8 M103.5 745.5 h8 M791 745.5 h-8 M103.5 731 h4.8 M791 731 h-4.8 M103.5 716.5 h4.8 M791 716.5 h-4.8 M103.5 702 h4.8 M791 702 h-4.8 M103.5 687 h8 M791 687 h-8 M103.5 672.5 h4.8 M791 672.5 h-4.8 M103.5 658 h4.8 M791 658 h-4.8 M103.5 643 h4.8 M791 643 h-4.8 M103.5 628.5 h8 M791 628.5 h-8 M103.5 614 h4.8 M791 614 h-4.8 M103.5 599.5 h4.8 M791 599.5 h-4.8 M103.5 584.5 h4.8 M791 584.5 h-4.8 M103.5 570 h8 M791 570 h-8" stroke="#000" stroke-opacity="0.62" stroke-width="1" fill="none"/>
<rect x="103.5" y="555.5" width="687.5" height="424.5" fill="none" stroke="#000" stroke-opacity="0.56" stroke-width="1"/>
<clipPath id="c10"><rect x="103.5" y="555.5" width="687.8" height="425"/></clipPath>
<g clip-path="url(#c10)" fill="none" stroke-linejoin="round" stroke-linecap="butt">
<path d="M122.7 926.15 L139.28 855.95 L155.64 813.83 L170.85 775.22 L187 756.5 L202.21 739.83 L217.64 730.47 L233.36 719.06 L249.29 709.12 L265.22 701.51 L280.65 697.12 L296.43 692.44 L312.37 686.01 L328.37 680.74 L343.8 670.21 L359.94 673.72 L376.45 667.87 L392.23 665.83 L408.02 663.49 L424.53 663.49 L440.31 657.05 L456.82 656.17 L473.32 653.25 L489.83 651.2 L505.62 650.32 L522.84 647.69 L539.34 646.52 L555.85 645.35 L572.35 645.35 L589.57 646.81 L606.8 641.25 L624.02 636.87 L641.24 636.28 L658.46 635.4 L675.69 632.48 L693.63 629.26 L711.57 625.75 L729.51 622.83 L747.45 617.86 L765.39 612.88 L783.33 609.66 L801.45 605.48 L819.72 598.22 L838.16 594.82 L856.75 590.87 L875.51 583.95 L894.45 582.55 L913.57 578.71 L932.87 571.09 L952.37 560.78 L972.06 549.16 L991.96 532.4 L1012.08 515.44 L1032.41 498.43 L1052.98 480.86 L1073.78 460.87 L1094.82 441.69 L1116.11 423.93 L1137.67 406.72 L1159.49 389.14 L1181.6 370.66 L1203.99 353.33 L1226.68 337.26 L1249.68 320.87 L1272.99 305.51 L1296.64 291.98 L1320.63 278.41 L1344.97 263.73 L1369.68 250.26 L1394.76 238.4 L1420.24 227.62 L1446.13 215.93 L1472.43 206.79 L1499.18 198.23 L1526.37 189.56 L1554.04 181.9 L1582.19 174.22 L1610.84 167.8 L1640.02 163.69 L1669.75 160.65 L1700.04 157.12 L1730.91 152.79 L1762.4 151.78 L1794.52 151.34 L1827.3 151.31 L1860.76 149.44 L1894.94 148.78 L1929.86 151.04 L1965.56 152.2 L2001.12 152.41 L2039.36 154.97 L2078.76 162.88 L2118.73 168.01 L2159.29 177.62 L2201 181.9 L2243.88 187.66 L2289.07 199.84 L2334.84 208.18 L2381.76 222.92 L2429.27 235.1 L2479.1 241.72 L2531.24 250.69 L2583.96 263.51 L2638.42 276.97 L2694.04 292.36 L2751.98 312.44 L2811.07 324.19 L2873.07 340.43 L2937.95 353.04 L3004 370.56 L3071.79 383.59 L3143.63 383.16 L3217.21 390.21 L3294.26 386.15 L3373.64 393.85 L3458.22 397.69 L3545.71 400.26 L3636.09 400.9 L3731.1 403.46 L3829.59 395.34 L3933.88 403.67 L4041.06 396.2 L4152.3 400.47" stroke="#4daf4a" stroke-width="2.6"/>
<g fill="#4daf4a" stroke="none">
<circle cx="122.7" cy="927.05" r="3.0"/>
<circle cx="139.28" cy="856.85" r="3.0"/>
<circle cx="155.64" cy="814.73" r="3.0"/>
<circle cx="170.85" cy="776.12" r="3.0"/>
<circle cx="187" cy="757.4" r="3.0"/>
<circle cx="202.21" cy="740.73" r="3.0"/>
<circle cx="217.64" cy="731.37" r="3.0"/>
<circle cx="233.36" cy="719.96" r="3.0"/>
<circle cx="249.29" cy="710.01" r="3.0"/>
<circle cx="265.22" cy="702.41" r="3.0"/>
<circle cx="280.65" cy="698.02" r="3.0"/>
<circle cx="296.43" cy="693.34" r="3.0"/>
<circle cx="312.37" cy="686.91" r="3.0"/>
<circle cx="328.37" cy="681.64" r="3.0"/>
<circle cx="343.8" cy="671.11" r="3.0"/>
<circle cx="359.94" cy="674.62" r="3.0"/>
<circle cx="376.45" cy="668.77" r="3.0"/>
<circle cx="392.23" cy="666.73" r="3.0"/>
<circle cx="408.02" cy="664.38" r="3.0"/>
<circle cx="424.53" cy="664.38" r="3.0"/>
<circle cx="440.31" cy="657.95" r="3.0"/>
<circle cx="456.82" cy="657.07" r="3.0"/>
<circle cx="473.32" cy="654.15" r="3.0"/>
<circle cx="489.83" cy="652.1" r="3.0"/>
<circle cx="505.62" cy="651.22" r="3.0"/>
<circle cx="522.84" cy="648.59" r="3.0"/>
<circle cx="539.34" cy="647.42" r="3.0"/>
<circle cx="555.85" cy="646.25" r="3.0"/>
<circle cx="572.35" cy="646.25" r="3.0"/>
<circle cx="589.57" cy="647.71" r="3.0"/>
<circle cx="606.8" cy="642.15" r="3.0"/>
<circle cx="624.02" cy="637.77" r="3.0"/>
<circle cx="641.24" cy="637.18" r="3.0"/>
<circle cx="658.46" cy="636.3" r="3.0"/>
<circle cx="675.69" cy="633.38" r="3.0"/>
<circle cx="693.63" cy="630.16" r="3.0"/>
<circle cx="711.57" cy="626.65" r="3.0"/>
<circle cx="729.51" cy="623.73" r="3.0"/>
<circle cx="747.45" cy="618.75" r="3.0"/>
<circle cx="765.39" cy="613.78" r="3.0"/>
<circle cx="783.33" cy="610.56" r="3.0"/>
</g>
<path d="M109.5 979.7 L114.52 979 L115.21 978.24 L115.9 977.08 L116.59 975.5 L117.28 973.52 L117.97 971.16 L118.66 968.45 L119.34 965.45 L120.03 962.19 L120.72 958.73 L121.41 955.1 L122.1 951.34 L122.79 947.48 L123.48 943.56 L124.17 939.59 L124.85 935.6 L125.54 931.61 L126.23 927.62 L126.92 923.66 L127.61 919.74 L128.3 915.85 L128.99 912.02 L129.67 908.23 L130.36 904.51 L131.05 900.85 L131.74 897.25 L132.43 893.72 L133.12 890.25 L133.81 886.86 L134.5 883.53 L135.18 880.26 L135.87 877.07 L136.56 873.94 L137.25 870.88 L137.94 867.89 L138.63 864.96 L139.32 862.09 L140.01 859.28 L140.69 856.54 L141.38 853.85 L142.07 851.22 L142.76 848.65 L143.45 846.13 L144.14 843.67 L144.83 841.26 L145.51 838.9 L146.2 836.59 L146.89 834.33 L147.58 832.12 L148.27 829.95 L148.96 827.83 L149.65 825.75 L150.34 823.71 L151.02 821.71 L151.71 819.76 L152.4 817.84 L153.09 815.96 L153.78 814.12 L154.47 812.31 L155.16 810.54 L155.85 808.81 L156.53 807.1 L157.22 805.43 L157.91 803.79 L158.6 802.18 L159.29 800.6 L159.98 799.05 L160.67 797.53 L161.36 796.03 L162.04 794.57 L162.73 793.12 L163.42 791.71 L164.11 790.31 L164.8 788.95 L165.49 787.6 L166.18 786.28 L166.86 784.98 L167.55 783.7 L168.24 782.44 L168.93 781.21 L169.62 779.99 L170.31 778.8 L171 777.62 L171.69 776.46 L172.37 775.32 L173.06 774.2 L173.75 773.1 L174.44 772.01 L175.13 770.94 L175.82 769.89 L176.51 768.85 L177.2 767.82 L177.88 766.82 L178.57 765.82 L179.26 764.85 L179.95 763.88 L180.64 762.93 L181.33 762 L182.02 761.07 L182.7 760.16 L183.39 759.27 L184.08 758.38 L184.77 757.51 L185.46 756.65 L186.15 755.8 L186.84 754.96 L187.53 754.13 L188.21 753.32 L188.9 752.51 L189.59 751.72 L190.28 750.93 L190.97 750.16 L191.66 749.4 L192.35 748.64 L193.04 747.9 L193.72 747.16 L194.41 746.44 L195.1 745.72 L195.79 745.01 L196.48 744.31 L197.17 743.62 L197.86 742.93 L198.55 742.26 L199.23 741.59 L199.92 740.93 L200.61 740.28 L201.3 739.64 L201.99 739 L202.68 738.37 L203.37 737.75 L204.05 737.13 L204.74 736.53 L205.43 735.92 L206.12 735.33 L206.81 734.74 L207.5 734.16 L208.19 733.58 L208.88 733.01 L209.56 732.45 L210.25 731.89 L210.94 731.34 L211.63 730.8 L212.32 730.26 L213.01 729.72 L213.7 729.19 L214.39 728.67 L215.07 728.15 L215.76 727.64 L216.45 727.13 L217.14 726.63 L223.99 721.88 L230.85 717.56 L237.7 713.6 L244.55 709.95 L251.41 706.58 L258.26 703.44 L265.11 700.52 L271.97 697.79 L278.82 695.23 L285.67 692.81 L292.53 690.53 L299.38 688.37 L306.24 686.31 L313.09 684.36 L319.94 682.5 L326.8 680.72 L333.65 679.01 L340.5 677.37 L347.36 675.8 L354.21 674.29 L361.06 672.83 L367.92 671.41 L374.77 670.05 L381.62 668.73 L388.48 667.45 L395.33 666.2 L402.18 664.99 L409.04 663.82 L415.89 662.67 L422.74 661.55 L429.6 660.46 L436.45 659.39 L443.3 658.35 L450.16 657.33 L457.01 656.33 L463.87 655.35 L470.72 654.39 L477.57 653.45 L484.43 652.53 L491.28 651.62 L498.13 650.72 L504.99 649.84 L511.84 648.98 L518.69 648.12 L525.55 647.28 L532.4 646.46 L539.25 645.64 L546.11 644.83 L552.96 644.04 L559.81 643.25 L566.67 642.47 L573.52 641.71 L580.37 640.95 L587.23 640.2 L594.08 639.45 L600.94 638.72 L607.79 637.99 L614.64 637.27 L621.5 636.56 L628.35 635.85 L635.2 635.15 L642.06 634.45 L648.91 633.77 L655.76 633.08 L662.62 632.4 L669.47 631.73 L676.32 631.06 L683.18 630.4 L690.03 629.74 L696.88 629.09 L703.74 628.44 L710.59 627.79 L717.44 627.15 L724.3 626.51 L731.15 625.88 L738 625.25 L744.86 624.62 L751.71 624 L758.57 623.38 L765.42 622.77 L772.27 622.15 L779.13 621.54 L785.98 620.94 L792.83 620.33 L799.69 619.73 L806.54 619.13 L813.39 618.54 L820.25 617.94 L827.1 617.35" stroke="#ff7f00" stroke-width="3.0" stroke-linecap="square"/>
<path d="M109.5 979.7 L114.52 978.95 L115.21 978.13 L115.9 976.89 L116.59 975.22 L117.28 973.11 L117.97 970.6 L118.66 967.73 L119.34 964.55 L120.03 961.11 L120.72 957.44 L121.41 953.61 L122.1 949.64 L122.79 945.57 L123.48 941.43 L124.17 937.25 L124.85 933.05 L125.54 928.85 L126.23 924.66 L126.92 920.49 L127.61 916.37 L128.3 912.29 L128.99 908.26 L129.67 904.29 L130.36 900.39 L131.05 896.55 L131.74 892.78 L132.43 889.08 L133.12 885.45 L133.81 881.9 L134.5 878.42 L135.18 875.01 L135.87 871.67 L136.56 868.41 L137.25 865.21 L137.94 862.09 L138.63 859.03 L139.32 856.04 L140.01 853.12 L140.69 850.26 L141.38 847.46 L142.07 844.73 L142.76 842.06 L143.45 839.44 L144.14 836.88 L144.83 834.38 L145.51 831.93 L146.2 829.54 L146.89 827.19 L147.58 824.9 L148.27 822.66 L148.96 820.46 L149.65 818.31 L150.34 816.2 L151.02 814.14 L151.71 812.12 L152.4 810.15 L153.09 808.21 L153.78 806.31 L154.47 804.45 L155.16 802.62 L155.85 800.84 L156.53 799.09 L157.22 797.37 L157.91 795.68 L158.6 794.03 L159.29 792.41 L159.98 790.82 L160.67 789.26 L161.36 787.73 L162.04 786.22 L162.73 784.75 L163.42 783.3 L164.11 781.88 L164.8 780.48 L165.49 779.11 L166.18 777.76 L166.86 776.43 L167.55 775.13 L168.24 773.85 L168.93 772.6 L169.62 771.36 L170.31 770.15 L171 768.95 L171.69 767.78 L172.37 766.62 L173.06 765.49 L173.75 764.37 L174.44 763.27 L175.13 762.19 L175.82 761.12 L176.51 760.08 L177.2 759.05 L177.88 758.03 L178.57 757.03 L179.26 756.05 L179.95 755.08 L180.64 754.12 L181.33 753.18 L182.02 752.26 L182.7 751.34 L183.39 750.45 L184.08 749.56 L184.77 748.69 L185.46 747.83 L186.15 746.98 L186.84 746.14 L187.53 745.32 L188.21 744.51 L188.9 743.71 L189.59 742.92 L190.28 742.14 L190.97 741.37 L191.66 740.61 L192.35 739.86 L193.04 739.12 L193.72 738.4 L194.41 737.68 L195.1 736.97 L195.79 736.27 L196.48 735.58 L197.17 734.9 L197.86 734.23 L198.55 733.56 L199.23 732.91 L199.92 732.26 L200.61 731.62 L201.3 730.99 L201.99 730.37 L202.68 729.75 L203.37 729.14 L204.05 728.54 L204.74 727.95 L205.43 727.36 L206.12 726.78 L206.81 726.21 L207.5 725.65 L208.19 725.09 L208.88 724.53 L209.56 723.99 L210.25 723.45 L210.94 722.92 L211.63 722.39 L212.32 721.87 L213.01 721.35 L213.7 720.84 L214.39 720.34 L215.07 719.84 L215.76 719.35 L216.45 718.86 L217.14 718.38 L223.99 713.86 L230.85 709.78 L237.7 706.08 L244.55 702.72 L251.41 699.65 L258.26 696.83 L265.11 694.23 L271.97 691.83 L278.82 689.61 L285.67 687.55 L292.53 685.63 L299.38 683.83 L306.24 682.15 L313.09 680.58 L319.94 679.1 L326.8 677.7 L333.65 676.39 L340.5 675.15 L347.36 673.97 L354.21 672.86 L361.06 671.81 L367.92 670.8 L374.77 669.85 L381.62 668.94 L388.48 668.07 L395.33 667.24 L402.18 666.45 L409.04 665.7 L415.89 664.97 L422.74 664.28 L429.6 663.61 L436.45 662.97 L443.3 662.36 L450.16 661.77 L457.01 661.2 L463.87 660.65 L470.72 660.12 L477.57 659.62 L484.43 659.12 L491.28 658.65 L498.13 658.19 L504.99 657.75 L511.84 657.32 L518.69 656.91 L525.55 656.51 L532.4 656.12 L539.25 655.74 L546.11 655.38 L552.96 655.02 L559.81 654.68 L566.67 654.34 L573.52 654.02 L580.37 653.7 L587.23 653.4 L594.08 653.1 L600.94 652.81 L607.79 652.53 L614.64 652.25 L621.5 651.98 L628.35 651.72 L635.2 651.47 L642.06 651.22 L648.91 650.98 L655.76 650.74 L662.62 650.51 L669.47 650.29 L676.32 650.07 L683.18 649.85 L690.03 649.64 L696.88 649.44 L703.74 649.24 L710.59 649.04 L717.44 648.85 L724.3 648.66 L731.15 648.48 L738 648.3 L744.86 648.13 L751.71 647.95 L758.57 647.79 L765.42 647.62 L772.27 647.46 L779.13 647.3 L785.98 647.15 L792.83 646.99 L799.69 646.84 L806.54 646.7 L813.39 646.55 L820.25 646.41 L827.1 646.27" stroke="#984ea3" stroke-width="3.0" stroke-linecap="square"/>
</g>
<g font-size="27" fill="#000" text-anchor="middle">
<text x="109" y="1009.3">0</text>
<text x="252.52" y="1009.3">20</text>
<text x="396.04" y="1009.3">40</text>
<text x="539.56" y="1009.3">60</text>
<text x="683.08" y="1009.3">80</text>
<text x="447.25" y="1051.5">Distance from Sun (au)</text>
</g>
<g font-size="27" fill="#000" text-anchor="end">
<text x="98.5" y="989.3">0.00</text>
<text x="98.5" y="930.73">0.02</text>
<text x="98.5" y="872.16">0.04</text>
<text x="98.5" y="813.58">0.06</text>
<text x="98.5" y="755.01">0.08</text>
<text x="98.5" y="696.44">0.10</text>
<text x="98.5" y="637.87">0.12</text>
<text x="98.5" y="579.3">0.14</text>
</g>
<text transform="translate(25.5 769.25) rotate(-90)" font-size="27" text-anchor="middle" fill="#000">ISN H density (cm<tspan font-size="19" dy="-9.5">−3</tspan><tspan dy="9.5">)</tspan></text>
<path d="M377.6 856.8 H412" stroke="#4daf4a" stroke-width="3" fill="none"/>
<text x="423.4" y="865.3" font-size="23.6" fill="#000">Numerical model</text>
<path d="M377.6 901.3 H412" stroke="#984ea3" stroke-width="3" fill="none"/>
<text x="423.4" y="909.8" font-size="23.6" fill="#000">Cold model fit (22−52 au)</text>
<path d="M377.6 946 H412" stroke="#ff7f00" stroke-width="3" fill="none"/>
<text x="423.4" y="954.5" font-size="23.6" fill="#000">Model with gradient fit (22−90 au)</text>
</g>
<g id="p11">
<path d="M798.5 980 v-8 M798.5 555.5 v8 M834.5 980 v-4.8 M834.5 555.5 v4.8 M870.5 980 v-4.8 M870.5 555.5 v4.8 M906 980 v-4.8 M906 555.5 v4.8 M942 980 v-8 M942 555.5 v8 M978 980 v-4.8 M978 555.5 v4.8 M1014 980 v-4.8 M1014 555.5 v4.8 M1049.5 980 v-4.8 M1049.5 555.5 v4.8 M1085.5 980 v-8 M1085.5 555.5 v8 M1121.5 980 v-4.8 M1121.5 555.5 v4.8 M1157.5 980 v-4.8 M1157.5 555.5 v4.8 M1193 980 v-4.8 M1193 555.5 v4.8 M1229 980 v-8 M1229 555.5 v8 M1265 980 v-4.8 M1265 555.5 v4.8 M1301 980 v-4.8 M1301 555.5 v4.8 M1336.5 980 v-4.8 M1336.5 555.5 v4.8 M1372.5 980 v-8 M1372.5 555.5 v8 M1408.5 980 v-4.8 M1408.5 555.5 v4.8 M1444.5 980 v-4.8 M1444.5 555.5 v4.8 M1480 980 v-4.8 M1480 555.5 v4.8 M792.5 965.5 h4.8 M1479.5 965.5 h-4.8 M792.5 950.5 h4.8 M1479.5 950.5 h-4.8 M792.5 936 h4.8 M1479.5 936 h-4.8 M792.5 921.5 h8 M1479.5 921.5 h-8 M792.5 907 h4.8 M1479.5 907 h-4.8 M792.5 892 h4.8 M1479.5 892 h-4.8 M792.5 877.5 h4.8 M1479.5 877.5 h-4.8 M792.5 863 h8 M1479.5 863 h-8 M792.5 848 h4.8 M1479.5 848 h-4.8 M792.5 833.5 h4.8 M1479.5 833.5 h-4.8 M792.5 819 h4.8 M1479.5 819 h-4.8 M792.5 804.5 h8 M1479.5 804.5 h-8 M792.5 789.5 h4.8 M1479.5 789.5 h-4.8 M792.5 775 h4.8 M1479.5 775 h-4.8 M792.5 760.5 h4.8 M1479.5 760.5 h-4.8 M792.5 745.5 h8 M1479.5 745.5 h-8 M792.5 731 h4.8 M1479.5 731 h-4.8 M792.5 716.5 h4.8 M1479.5 716.5 h-4.8 M792.5 702 h4.8 M1479.5 702 h-4.8 M792.5 687 h8 M1479.5 687 h-8 M792.5 672.5 h4.8 M1479.5 672.5 h-4.8 M792.5 658 h4.8 M1479.5 658 h-4.8 M792.5 643 h4.8 M1479.5 643 h-4.8 M792.5 628.5 h8 M1479.5 628.5 h-8 M792.5 614 h4.8 M1479.5 614 h-4.8 M792.5 599.5 h4.8 M1479.5 599.5 h-4.8 M792.5 584.5 h4.8 M1479.5 584.5 h-4.8 M792.5 570 h8 M1479.5 570 h-8" stroke="#000" stroke-opacity="0.62" stroke-width="1" fill="none"/>
<rect x="792.5" y="555.5" width="687" height="424.5" fill="none" stroke="#000" stroke-opacity="0.56" stroke-width="1"/>
<clipPath id="c11"><rect x="792.5" y="555.5" width="687.3" height="425"/></clipPath>
<g clip-path="url(#c11)" fill="none" stroke-linejoin="round" stroke-linecap="butt">
<path d="M807.11 825.69 L814.29 809.93 L821.46 792.72 L828.64 779.13 L835.82 765.67 L842.99 754.62 L850.17 744.14 L857.34 734.58 L864.52 725.23 L871.7 715.96 L878.87 707.6 L886.05 700.68 L893.22 694.92 L900.4 689.28 L907.58 684.42 L914.75 679.97 L921.93 676.2 L929.1 672.58 L936.28 669.12 L943.46 665.97 L950.63 663.01 L957.81 659.86 L964.98 657.27 L972.16 654.63 L979.34 651.99 L986.51 649.44 L993.69 647.33 L1000.86 645.02 L1008.04 643.37 L1015.22 640.95 L1022.39 638.71 L1029.57 637.16 L1036.74 636.17 L1043.92 635.89 L1051.1 636.43 L1058.27 636.71 L1065.45 636.22 L1072.62 635.76 L1079.8 635.5 L1086.98 635.2 L1094.15 634.78 L1101.33 634.24 L1108.5 633.46 L1115.68 632.73 L1122.86 632.1 L1130.03 631.65 L1137.21 631.38 L1144.38 631.12 L1151.56 630.71 L1158.74 629.13 L1165.91 627.63 L1173.09 625.85 L1180.26 624.11 L1187.44 622.18 L1194.62 619.31 L1201.79 617.35 L1208.97 615.6 L1216.14 613.94 L1223.32 612.84 L1230.5 612.03 L1237.67 611.42 L1244.85 610.37 L1252.02 609.46 L1259.2 608.81 L1266.38 608.39 L1273.55 608.36 L1280.73 608.36 L1287.9 608.37 L1295.08 608.58 L1302.26 608.91 L1309.43 609.32 L1316.61 609.85 L1323.78 610.41 L1330.96 611.05 L1338.14 611.28 L1345.31 611.19 L1352.49 611.03 L1359.66 610.84 L1366.84 610.58 L1374.02 610.29 L1381.19 609.97 L1388.37 609.53 L1395.54 608.68 L1402.72 607.52 L1409.9 606.36 L1417.07 605.37 L1424.25 604.75 L1431.42 604.34 L1438.6 604.16 L1445.78 604.06 L1452.95 603.92 L1460.13 603.7 L1467.3 603.39 L1474.48 602.86 L1481.66 602.01 L1488.83 600.34 L1496.01 597.85 L1503.18 594.84 L1510.36 591.63 L1517.54 588.52 L1524.71 585.81 L1531.89 583.82 L1539.06 582.54 L1546.24 581.47 L1553.42 580.54 L1560.59 579.71 L1567.77 578.92 L1574.94 578.12 L1582.12 577.27 L1589.3 576.37 L1596.47 575.48 L1603.65 574.59 L1610.82 573.7 L1618 572.81 L1625.18 571.89 L1632.35 570.95 L1639.53 570.02 L1646.7 569.12 L1653.88 568.19 L1661.06 567.18 L1668.23 566.02 L1675.41 564.65 L1682.58 562.93 L1689.76 560.96 L1696.94 558.81 L1704.11 556.61 L1711.29 554.43 L1718.46 552.24 L1725.64 549.95 L1732.82 547.61 L1739.99 545.26 L1747.17 542.94 L1754.34 540.64 L1761.52 538.28 L1768.7 535.96 L1775.87 533.81 L1783.05 531.96 L1790.22 530.32 L1797.4 528.84 L1804.58 527.44 L1811.75 526.06 L1818.93 524.65 L1826.1 523.16 L1833.28 521.55 L1840.46 519.94 L1847.63 518.3 L1854.81 516.55 L1861.98 514.62 L1869.16 512.46 L1876.34 509.93 L1883.51 507.02 L1890.69 503.76 L1897.86 500.17 L1905.04 496.13 L1912.22 491.5 L1919.39 486.36 L1926.57 480.66 L1933.74 473.93 L1940.92 467.06 L1948.1 460.72 L1955.27 454.57 L1962.45 448.97 L1969.62 444 L1976.8 439.48 L1983.98 435.34 L1991.15 431.55 L1998.33 428.02 L2005.5 424.64 L2012.68 421.32 L2019.86 417.95 L2027.03 414.43 L2034.21 410.76 L2041.38 407 L2048.56 403.21 L2055.74 399.4 L2062.91 395.63 L2070.09 391.92 L2077.26 388.3 L2084.44 384.73 L2091.62 381.17 L2098.79 377.66 L2105.97 374.2 L2113.14 370.84 L2120.32 367.59 L2127.5 364.46 L2134.67 361.35 L2141.85 358.29 L2149.02 355.37 L2156.2 352.65 L2163.38 350.22 L2170.55 348.01 L2177.73 345.84 L2184.9 343.81 L2192.08 342.05 L2199.26 340.66 L2206.43 339.75 L2213.61 339.18 L2220.78 338.76 L2227.96 338.36 L2235.14 337.81 L2242.31 336.95 L2249.49 335.48 L2256.66 333.57 L2263.84 331.47 L2271.02 329.42 L2278.19 327.56 L2285.37 325.76 L2292.54 323.93 L2299.72 322.02 L2306.9 319.94 L2314.07 317.61 L2321.25 314.69 L2328.42 311.36 L2335.6 308.08 L2342.78 305.3 L2349.95 302.64 L2357.13 300.43 L2364.3 299.89 L2371.48 300.73 L2378.66 302.15 L2385.83 303.83 L2393.01 306.42 L2400.18 309.32 L2407.36 311.76 L2414.54 313.14 L2421.71 314.18 L2428.89 314.94 L2436.06 315.22 L2443.24 314.92 L2450.42 314.24 L2457.59 313.46 L2464.77 312.84 L2471.94 312.67 L2479.12 313.21 L2486.3 314.18 L2493.47 315.2 L2500.65 316.08 L2507.82 317.07 L2515 317.82 L2522.18 317.92 L2529.35 316.87 L2536.53 315.04 L2543.7 312.94 L2550.88 310.36 L2558.06 306.97 L2565.23 303.91 L2572.41 302.1 L2579.58 300.67 L2586.76 299.61 L2593.94 299.19 L2601.11 299.72 L2608.29 300.94 L2615.46 302.34 L2622.64 303.62 L2629.82 305.13 L2636.99 306.46 L2644.17 307.14 L2651.34 307.4 L2658.52 307.59 L2665.7 307.72 L2672.87 307.84 L2680.05 307.98 L2687.22 308.15 L2694.4 308.38 L2701.58 308.64 L2708.75 308.93 L2715.93 309.23 L2723.1 309.54 L2730.28 309.83 L2737.46 310.11 L2744.63 310.4 L2751.81 310.73 L2758.98 311.05 L2766.16 311.36 L2773.34 311.6 L2780.51 311.76 L2787.69 311.8 L2794.86 311.8 L2802.04 311.8 L2809.22 311.8 L2816.39 311.8 L2823.57 311.8 L2830.74 311.8 L2837.92 311.83 L2845.1 312.28 L2852.27 313.11 L2859.45 314.16 L2866.62 315.23 L2873.8 316.16 L2880.98 316.93 L2888.15 317.7 L2895.33 318.47 L2902.5 319.2 L2909.68 319.88 L2916.86 320.48 L2924.03 320.98 L2931.21 321.37 L2938.38 321.69 L2945.56 321.97 L2952.74 322.22 L2959.91 322.47 L2967.09 322.74 L2974.26 323.06 L2981.44 323.44 L2988.62 323.91 L2995.79 324.46 L3002.97 325.1 L3010.14 325.82 L3017.32 326.62 L3024.5 327.51 L3031.67 328.48 L3038.85 329.54 L3046.02 330.71 L3053.2 332.27 L3060.38 334.17 L3067.55 336.27 L3074.73 338.44 L3081.9 340.54 L3089.08 342.45 L3096.26 344.15 L3103.43 345.86 L3110.61 347.55 L3117.78 349.2 L3124.96 350.8 L3132.14 352.32 L3139.31 353.75 L3146.49 355.06 L3153.66 356.24 L3160.84 357.28 L3168.02 358.23 L3175.19 359.11 L3182.37 359.93 L3189.54 360.69 L3196.72 361.42 L3203.9 362.12 L3211.07 362.8 L3218.25 363.47 L3225.42 364.15 L3232.6 364.84 L3239.78 365.56 L3246.95 366.31 L3254.13 367.11 L3261.3 367.97 L3268.48 368.85 L3275.66 369.76 L3282.83 370.69 L3290.01 371.64 L3297.18 372.6 L3304.36 373.56 L3311.54 374.53 L3318.71 375.48 L3325.89 376.43 L3333.06 377.35 L3340.24 378.26 L3347.42 379.16 L3354.59 380.07 L3361.77 380.97 L3368.94 381.87 L3376.12 382.77 L3383.3 383.65 L3390.47 384.53 L3397.65 385.39 L3404.82 386.23 L3412 387.05 L3419.18 387.85 L3426.35 388.62 L3433.53 389.38 L3440.7 390.12 L3447.88 390.85 L3455.06 391.57 L3462.23 392.27 L3469.41 392.96 L3476.58 393.64 L3483.76 394.32 L3490.94 394.99 L3498.11 395.65 L3505.29 396.3 L3512.46 396.95 L3519.64 397.58 L3526.82 398.2 L3533.99 398.82 L3541.17 399.43 L3548.34 400.03 L3555.52 400.63 L3562.7 401.23 L3569.87 401.82 L3577.05 402.42 L3584.22 403.02 L3591.4 403.62 L3598.58 404.22 L3605.75 404.83 L3612.93 405.43 L3620.1 406.04 L3627.28 406.64 L3634.46 407.24 L3641.63 407.83 L3648.81 408.42 L3655.98 409 L3663.16 409.56 L3670.34 410.12 L3677.51 410.67 L3684.69 411.22 L3691.86 411.77 L3699.04 412.31 L3706.22 412.84 L3713.39 413.37 L3720.57 413.89 L3727.74 414.4 L3734.92 414.89 L3742.1 415.38 L3749.27 415.85 L3756.45 416.3 L3763.62 416.75 L3770.8 417.19 L3777.98 417.61 L3785.15 418.03 L3792.33 418.44 L3799.5 418.85 L3806.68 419.24 L3813.86 419.63 L3821.03 420.01 L3828.21 420.39 L3835.38 420.76 L3842.56 421.13 L3849.74 421.49 L3856.91 421.85 L3864.09 422.21 L3871.26 422.56 L3878.44 422.9 L3885.62 423.23 L3892.79 423.56 L3899.97 423.88 L3907.14 424.18 L3914.32 424.48 L3921.5 424.75 L3928.67 425.02 L3935.85 425.27 L3943.02 425.52 L3950.2 425.76 L3957.38 425.99 L3964.55 426.21 L3971.73 426.44 L3978.9 426.67 L3986.08 426.9 L3993.26 427.14 L4000.43 427.38 L4007.61 427.64 L4014.78 427.89 L4021.96 428.16 L4029.14 428.42 L4036.31 428.69 L4043.49 428.95 L4050.66 429.22 L4057.84 429.48 L4065.02 429.74 L4072.19 429.99 L4079.37 430.24 L4086.54 430.48 L4093.72 430.72 L4100.9 430.95 L4108.07 431.18 L4115.25 431.4 L4122.42 431.63 L4129.6 431.84 L4136.78 432.06 L4143.95 432.28 L4151.13 432.49 L4158.3 432.71 L4165.48 432.92 L4172.66 433.13 L4179.83 433.34 L4187.01 433.55 L4194.18 433.76 L4201.36 433.96 L4208.54 434.17 L4215.71 434.37 L4222.89 434.57 L4230.06 434.77 L4237.24 434.97 L4244.42 435.17 L4251.59 435.36 L4258.77 435.55 L4265.94 435.74 L4273.12 435.93 L4280.3 436.11 L4287.47 436.3 L4294.65 436.48 L4301.82 436.66 L4309 436.84 L4316.18 437.03 L4323.35 437.21 L4330.53 437.39 L4337.7 437.58 L4344.88 437.77 L4352.06 437.96 L4359.23 438.16 L4366.41 438.36 L4373.58 438.55 L4380.76 438.74 L4387.94 438.93 L4395.11 439.11 L4402.29 439.28 L4409.46 439.45 L4416.64 439.61 L4423.82 439.76 L4430.99 439.9 L4438.17 440.04 L4445.34 440.18 L4452.52 440.32 L4459.7 440.45 L4466.87 440.57 L4474.05 440.7 L4481.22 440.81 L4488.4 440.93 L4495.58 441.04 L4502.75 441.15 L4509.93 441.25 L4517.1 441.35 L4524.28 441.45 L4531.46 441.54 L4538.63 441.64 L4545.81 441.73 L4552.98 441.81 L4560.16 441.9 L4567.34 441.99 L4574.51 442.07 L4581.69 442.15 L4588.86 442.23 L4596.04 442.31 L4603.22 442.39 L4610.39 442.47 L4617.57 442.54 L4624.74 442.62 L4631.92 442.69 L4639.1 442.76 L4646.27 442.83 L4653.45 442.9 L4660.62 442.97 L4667.8 443.03 L4674.98 443.09 L4682.15 443.16 L4689.33 443.22 L4696.5 443.28 L4703.68 443.33 L4710.86 443.39 L4718.03 443.45 L4725.21 443.5 L4732.38 443.56 L4739.56 443.61 L4746.74 443.67 L4753.91 443.72 L4761.09 443.77 L4768.26 443.83 L4775.44 443.88 L4782.62 443.93 L4789.79 443.98 L4796.97 444.03 L4804.14 444.08 L4811.32 444.13 L4818.5 444.18 L4825.67 444.22" stroke="#4daf4a" stroke-width="2.6"/>
<g fill="#4daf4a" stroke="none">
<circle cx="807.11" cy="826.59" r="3.0"/>
<circle cx="814.29" cy="810.83" r="3.0"/>
<circle cx="821.46" cy="793.62" r="3.0"/>
<circle cx="828.64" cy="780.03" r="3.0"/>
<circle cx="835.82" cy="766.57" r="3.0"/>
<circle cx="842.99" cy="755.52" r="3.0"/>
<circle cx="850.17" cy="745.04" r="3.0"/>
<circle cx="857.34" cy="735.48" r="3.0"/>
<circle cx="864.52" cy="726.13" r="3.0"/>
<circle cx="871.7" cy="716.86" r="3.0"/>
<circle cx="878.87" cy="708.5" r="3.0"/>
<circle cx="886.05" cy="701.58" r="3.0"/>
<circle cx="893.22" cy="695.82" r="3.0"/>
<circle cx="900.4" cy="690.18" r="3.0"/>
<circle cx="907.58" cy="685.32" r="3.0"/>
<circle cx="914.75" cy="680.87" r="3.0"/>
<circle cx="921.93" cy="677.1" r="3.0"/>
<circle cx="929.1" cy="673.48" r="3.0"/>
<circle cx="936.28" cy="670.02" r="3.0"/>
<circle cx="943.46" cy="666.87" r="3.0"/>
<circle cx="950.63" cy="663.91" r="3.0"/>
<circle cx="957.81" cy="660.76" r="3.0"/>
<circle cx="964.98" cy="658.17" r="3.0"/>
<circle cx="972.16" cy="655.53" r="3.0"/>
<circle cx="979.34" cy="652.89" r="3.0"/>
<circle cx="986.51" cy="650.34" r="3.0"/>
<circle cx="993.69" cy="648.23" r="3.0"/>
<circle cx="1000.86" cy="645.92" r="3.0"/>
<circle cx="1008.04" cy="644.27" r="3.0"/>
<circle cx="1015.22" cy="641.85" r="3.0"/>
<circle cx="1022.39" cy="639.61" r="3.0"/>
<circle cx="1029.57" cy="638.06" r="3.0"/>
<circle cx="1036.74" cy="637.07" r="3.0"/>
<circle cx="1043.92" cy="636.79" r="3.0"/>
<circle cx="1051.1" cy="637.33" r="3.0"/>
<circle cx="1058.27" cy="637.61" r="3.0"/>
<circle cx="1065.45" cy="637.12" r="3.0"/>
<circle cx="1072.62" cy="636.66" r="3.0"/>
<circle cx="1079.8" cy="636.4" r="3.0"/>
<circle cx="1086.98" cy="636.1" r="3.0"/>
<circle cx="1094.15" cy="635.68" r="3.0"/>
<circle cx="1101.33" cy="635.14" r="3.0"/>
<circle cx="1108.5" cy="634.36" r="3.0"/>
<circle cx="1115.68" cy="633.63" r="3.0"/>
<circle cx="1122.86" cy="633" r="3.0"/>
<circle cx="1130.03" cy="632.55" r="3.0"/>
<circle cx="1137.21" cy="632.28" r="3.0"/>
<circle cx="1144.38" cy="632.02" r="3.0"/>
<circle cx="1151.56" cy="631.61" r="3.0"/>
<circle cx="1158.74" cy="630.03" r="3.0"/>
<circle cx="1165.91" cy="628.53" r="3.0"/>
<circle cx="1173.09" cy="626.75" r="3.0"/>
<circle cx="1180.26" cy="625.01" r="3.0"/>
<circle cx="1187.44" cy="623.08" r="3.0"/>
<circle cx="1194.62" cy="620.21" r="3.0"/>
<circle cx="1201.79" cy="618.25" r="3.0"/>
<circle cx="1208.97" cy="616.5" r="3.0"/>
<circle cx="1216.14" cy="614.84" r="3.0"/>
<circle cx="1223.32" cy="613.74" r="3.0"/>
<circle cx="1230.5" cy="612.93" r="3.0"/>
<circle cx="1237.67" cy="612.32" r="3.0"/>
<circle cx="1244.85" cy="611.27" r="3.0"/>
<circle cx="1252.02" cy="610.36" r="3.0"/>
<circle cx="1259.2" cy="609.71" r="3.0"/>
<circle cx="1266.38" cy="609.29" r="3.0"/>
<circle cx="1273.55" cy="609.26" r="3.0"/>
<circle cx="1280.73" cy="609.26" r="3.0"/>
<circle cx="1287.9" cy="609.27" r="3.0"/>
<circle cx="1295.08" cy="609.48" r="3.0"/>
<circle cx="1302.26" cy="609.81" r="3.0"/>
<circle cx="1309.43" cy="610.22" r="3.0"/>
<circle cx="1316.61" cy="610.75" r="3.0"/>
<circle cx="1323.78" cy="611.31" r="3.0"/>
<circle cx="1330.96" cy="611.95" r="3.0"/>
<circle cx="1338.14" cy="612.18" r="3.0"/>
<circle cx="1345.31" cy="612.09" r="3.0"/>
<circle cx="1352.49" cy="611.93" r="3.0"/>
<circle cx="1359.66" cy="611.74" r="3.0"/>
<circle cx="1366.84" cy="611.48" r="3.0"/>
<circle cx="1374.02" cy="611.19" r="3.0"/>
<circle cx="1381.19" cy="610.87" r="3.0"/>
<circle cx="1388.37" cy="610.43" r="3.0"/>
<circle cx="1395.54" cy="609.58" r="3.0"/>
<circle cx="1402.72" cy="608.42" r="3.0"/>
<circle cx="1409.9" cy="607.26" r="3.0"/>
<circle cx="1417.07" cy="606.27" r="3.0"/>
<circle cx="1424.25" cy="605.65" r="3.0"/>
<circle cx="1431.42" cy="605.24" r="3.0"/>
<circle cx="1438.6" cy="605.06" r="3.0"/>
<circle cx="1445.78" cy="604.96" r="3.0"/>
<circle cx="1452.95" cy="604.82" r="3.0"/>
<circle cx="1460.13" cy="604.6" r="3.0"/>
<circle cx="1467.3" cy="604.29" r="3.0"/>
<circle cx="1474.48" cy="603.76" r="3.0"/>
<circle cx="1481.66" cy="602.91" r="3.0"/>
</g>
<path d="M798.5 979.7 L803.52 978.76 L804.21 977.77 L804.9 976.28 L805.59 974.3 L806.28 971.82 L806.97 968.9 L807.66 965.57 L808.34 961.9 L809.03 957.95 L809.72 953.76 L810.41 949.39 L811.1 944.88 L811.79 940.27 L812.48 935.6 L813.17 930.89 L813.85 926.16 L814.54 921.44 L815.23 916.75 L815.92 912.09 L816.61 907.48 L817.3 902.92 L817.99 898.44 L818.67 894.02 L819.36 889.67 L820.05 885.41 L820.74 881.22 L821.43 877.12 L822.12 873.1 L822.81 869.16 L823.5 865.31 L824.18 861.54 L824.87 857.85 L825.56 854.24 L826.25 850.72 L826.94 847.27 L827.63 843.9 L828.32 840.6 L829.01 837.38 L829.69 834.23 L830.38 831.15 L831.07 828.14 L831.76 825.19 L832.45 822.32 L833.14 819.5 L833.83 816.75 L834.51 814.06 L835.2 811.43 L835.89 808.85 L836.58 806.33 L837.27 803.87 L837.96 801.45 L838.65 799.09 L839.34 796.78 L840.02 794.52 L840.71 792.3 L841.4 790.13 L842.09 788 L842.78 785.92 L843.47 783.88 L844.16 781.88 L844.85 779.92 L845.53 778 L846.22 776.11 L846.91 774.26 L847.6 772.45 L848.29 770.67 L848.98 768.93 L849.67 767.22 L850.36 765.54 L851.04 763.89 L851.73 762.27 L852.42 760.69 L853.11 759.13 L853.8 757.59 L854.49 756.09 L855.18 754.61 L855.86 753.16 L856.55 751.73 L857.24 750.33 L857.93 748.95 L858.62 747.6 L859.31 746.27 L860 744.96 L860.69 743.67 L861.37 742.4 L862.06 741.16 L862.75 739.93 L863.44 738.73 L864.13 737.54 L864.82 736.37 L865.51 735.22 L866.2 734.09 L866.88 732.98 L867.57 731.88 L868.26 730.8 L868.95 729.74 L869.64 728.69 L870.33 727.66 L871.02 726.64 L871.7 725.64 L872.39 724.65 L873.08 723.68 L873.77 722.72 L874.46 721.78 L875.15 720.84 L875.84 719.93 L876.53 719.02 L877.21 718.13 L877.9 717.25 L878.59 716.38 L879.28 715.52 L879.97 714.68 L880.66 713.84 L881.35 713.02 L882.04 712.21 L882.72 711.41 L883.41 710.62 L884.1 709.84 L884.79 709.07 L885.48 708.31 L886.17 707.56 L886.86 706.82 L887.55 706.09 L888.23 705.37 L888.92 704.66 L889.61 703.95 L890.3 703.26 L890.99 702.57 L891.68 701.89 L892.37 701.22 L893.05 700.56 L893.74 699.9 L894.43 699.26 L895.12 698.62 L895.81 697.99 L896.5 697.36 L897.19 696.75 L897.88 696.14 L898.56 695.53 L899.25 694.94 L899.94 694.35 L900.63 693.77 L901.32 693.19 L902.01 692.62 L902.7 692.06 L903.39 691.5 L904.07 690.95 L904.76 690.4 L905.45 689.86 L906.14 689.33 L912.99 684.32 L919.85 679.79 L926.7 675.68 L933.55 671.92 L940.41 668.48 L947.26 665.32 L954.11 662.39 L960.97 659.68 L967.82 657.16 L974.67 654.82 L981.53 652.62 L988.38 650.56 L995.24 648.63 L1002.09 646.81 L1008.94 645.09 L1015.8 643.47 L1022.65 641.93 L1029.5 640.47 L1036.36 639.08 L1043.21 637.76 L1050.06 636.5 L1056.92 635.3 L1063.77 634.15 L1070.62 633.05 L1077.48 631.99 L1084.33 630.98 L1091.18 630 L1098.04 629.07 L1104.89 628.17 L1111.74 627.3 L1118.6 626.46 L1125.45 625.65 L1132.3 624.86 L1139.16 624.11 L1146.01 623.37 L1152.87 622.66 L1159.72 621.97 L1166.57 621.3 L1173.43 620.65 L1180.28 620.02 L1187.13 619.4 L1193.99 618.81 L1200.84 618.22 L1207.69 617.66 L1214.55 617.1 L1221.4 616.56 L1228.25 616.03 L1235.11 615.52 L1241.96 615.02 L1248.81 614.52 L1255.67 614.04 L1262.52 613.57 L1269.37 613.11 L1276.23 612.66 L1283.08 612.22 L1289.94 611.78 L1296.79 611.36 L1303.64 610.94 L1310.5 610.53 L1317.35 610.13 L1324.2 609.73 L1331.06 609.34 L1337.91 608.96 L1344.76 608.59 L1351.62 608.22 L1358.47 607.85 L1365.32 607.49 L1372.18 607.14 L1379.03 606.79 L1385.88 606.45 L1392.74 606.12 L1399.59 605.78 L1406.44 605.46 L1413.3 605.13 L1420.15 604.81 L1427 604.5 L1433.86 604.19 L1440.71 603.88 L1447.57 603.58 L1454.42 603.28 L1461.27 602.98 L1468.13 602.69 L1474.98 602.4 L1481.83 602.12 L1488.69 601.84 L1495.54 601.56 L1502.39 601.28 L1509.25 601.01 L1516.1 600.74" stroke="#ff7f00" stroke-width="3.0" stroke-linecap="square"/>
<path d="M798.5 979.7 L803.52 978.75 L804.21 977.75 L804.9 976.25 L805.59 974.25 L806.28 971.75 L806.97 968.81 L807.66 965.45 L808.34 961.76 L809.03 957.78 L809.72 953.56 L810.41 949.16 L811.1 944.63 L811.79 939.99 L812.48 935.29 L813.17 930.55 L813.85 925.79 L814.54 921.05 L815.23 916.32 L815.92 911.64 L816.61 907 L817.3 902.42 L817.99 897.91 L818.67 893.47 L819.36 889.1 L820.05 884.82 L820.74 880.61 L821.43 876.49 L822.12 872.45 L822.81 868.5 L823.5 864.63 L824.18 860.84 L824.87 857.14 L825.56 853.51 L826.25 849.97 L826.94 846.51 L827.63 843.13 L828.32 839.82 L829.01 836.58 L829.69 833.42 L830.38 830.33 L831.07 827.31 L831.76 824.36 L832.45 821.48 L833.14 818.65 L833.83 815.9 L834.51 813.2 L835.2 810.56 L835.89 807.98 L836.58 805.45 L837.27 802.98 L837.96 800.56 L838.65 798.2 L839.34 795.88 L840.02 793.61 L840.71 791.39 L841.4 789.22 L842.09 787.09 L842.78 785.01 L843.47 782.96 L844.16 780.96 L844.85 779 L845.53 777.08 L846.22 775.19 L846.91 773.34 L847.6 771.53 L848.29 769.75 L848.98 768.01 L849.67 766.3 L850.36 764.62 L851.04 762.97 L851.73 761.36 L852.42 759.77 L853.11 758.21 L853.8 756.68 L854.49 755.18 L855.18 753.7 L855.86 752.25 L856.55 750.83 L857.24 749.43 L857.93 748.06 L858.62 746.7 L859.31 745.37 L860 744.07 L860.69 742.78 L861.37 741.52 L862.06 740.28 L862.75 739.06 L863.44 737.86 L864.13 736.67 L864.82 735.51 L865.51 734.37 L866.2 733.24 L866.88 732.13 L867.57 731.04 L868.26 729.96 L868.95 728.9 L869.64 727.86 L870.33 726.83 L871.02 725.82 L871.7 724.83 L872.39 723.85 L873.08 722.88 L873.77 721.93 L874.46 720.99 L875.15 720.06 L875.84 719.15 L876.53 718.25 L877.21 717.37 L877.9 716.49 L878.59 715.63 L879.28 714.78 L879.97 713.94 L880.66 713.12 L881.35 712.3 L882.04 711.5 L882.72 710.7 L883.41 709.92 L884.1 709.15 L884.79 708.38 L885.48 707.63 L886.17 706.89 L886.86 706.16 L887.55 705.43 L888.23 704.72 L888.92 704.01 L889.61 703.32 L890.3 702.63 L890.99 701.95 L891.68 701.28 L892.37 700.62 L893.05 699.96 L893.74 699.31 L894.43 698.68 L895.12 698.05 L895.81 697.42 L896.5 696.81 L897.19 696.2 L897.88 695.6 L898.56 695 L899.25 694.41 L899.94 693.83 L900.63 693.26 L901.32 692.69 L902.01 692.13 L902.7 691.57 L903.39 691.03 L904.07 690.48 L904.76 689.95 L905.45 689.42 L906.14 688.89 L912.99 683.97 L919.85 679.53 L926.7 675.52 L933.55 671.86 L940.41 668.52 L947.26 665.46 L954.11 662.64 L960.97 660.03 L967.82 657.62 L974.67 655.38 L981.53 653.29 L988.38 651.34 L995.24 649.52 L1002.09 647.81 L1008.94 646.2 L1015.8 644.69 L1022.65 643.26 L1029.5 641.92 L1036.36 640.64 L1043.21 639.44 L1050.06 638.29 L1056.92 637.2 L1063.77 636.17 L1070.62 635.18 L1077.48 634.24 L1084.33 633.34 L1091.18 632.49 L1098.04 631.67 L1104.89 630.88 L1111.74 630.13 L1118.6 629.41 L1125.45 628.71 L1132.3 628.05 L1139.16 627.41 L1146.01 626.79 L1152.87 626.2 L1159.72 625.63 L1166.57 625.08 L1173.43 624.54 L1180.28 624.03 L1187.13 623.53 L1193.99 623.05 L1200.84 622.59 L1207.69 622.14 L1214.55 621.71 L1221.4 621.28 L1228.25 620.88 L1235.11 620.48 L1241.96 620.1 L1248.81 619.72 L1255.67 619.36 L1262.52 619.01 L1269.37 618.67 L1276.23 618.34 L1283.08 618.01 L1289.94 617.7 L1296.79 617.39 L1303.64 617.1 L1310.5 616.81 L1317.35 616.52 L1324.2 616.25 L1331.06 615.98 L1337.91 615.72 L1344.76 615.46 L1351.62 615.21 L1358.47 614.97 L1365.32 614.73 L1372.18 614.5 L1379.03 614.27 L1385.88 614.05 L1392.74 613.83 L1399.59 613.62 L1406.44 613.41 L1413.3 613.21 L1420.15 613.01 L1427 612.82 L1433.86 612.63 L1440.71 612.44 L1447.57 612.26 L1454.42 612.08 L1461.27 611.91 L1468.13 611.73 L1474.98 611.57 L1481.83 611.4 L1488.69 611.24 L1495.54 611.08 L1502.39 610.93 L1509.25 610.77 L1516.1 610.62" stroke="#984ea3" stroke-width="3.0" stroke-linecap="square"/>
</g>
<g font-size="27" fill="#000" text-anchor="middle">
<text x="798" y="1009.3">0</text>
<text x="941.52" y="1009.3">20</text>
<text x="1085.04" y="1009.3">40</text>
<text x="1228.56" y="1009.3">60</text>
<text x="1372.08" y="1009.3">80</text>
<text x="1136" y="1051.5">Distance from Sun (au)</text>
</g>
<path d="M1066.6 856.8 H1101" stroke="#4daf4a" stroke-width="3" fill="none"/>
<text x="1112.4" y="865.3" font-size="23.6" fill="#000">Numerical model</text>
<path d="M1066.6 901.3 H1101" stroke="#984ea3" stroke-width="3" fill="none"/>
<text x="1112.4" y="909.8" font-size="23.6" fill="#000">Cold model fit (22−52 au)</text>
<path d="M1066.6 946 H1101" stroke="#ff7f00" stroke-width="3" fill="none"/>
<text x="1112.4" y="954.5" font-size="23.6" fill="#000">Model with gradient fit (22−90 au)</text>
</g>
<g id="p12">
<path d="M1487.5 980 v-8 M1487.5 555.5 v8 M1523.5 980 v-4.8 M1523.5 555.5 v4.8 M1559.5 980 v-4.8 M1559.5 555.5 v4.8 M1595 980 v-4.8 M1595 555.5 v4.8 M1631 980 v-8 M1631 555.5 v8 M1667 980 v-4.8 M1667 555.5 v4.8 M1703 980 v-4.8 M1703 555.5 v4.8 M1738.5 980 v-4.8 M1738.5 555.5 v4.8 M1774.5 980 v-8 M1774.5 555.5 v8 M1810.5 980 v-4.8 M1810.5 555.5 v4.8 M1846.5 980 v-4.8 M1846.5 555.5 v4.8 M1882 980 v-4.8 M1882 555.5 v4.8 M1918 980 v-8 M1918 555.5 v8 M1954 980 v-4.8 M1954 555.5 v4.8 M1990 980 v-4.8 M1990 555.5 v4.8 M2025.5 980 v-4.8 M2025.5 555.5 v4.8 M2061.5 980 v-8 M2061.5 555.5 v8 M2097.5 980 v-4.8 M2097.5 555.5 v4.8 M2133.5 980 v-4.8 M2133.5 555.5 v4.8 M2169 980 v-4.8 M2169 555.5 v4.8 M1481.5 965.5 h4.8 M2168.5 965.5 h-4.8 M1481.5 950.5 h4.8 M2168.5 950.5 h-4.8 M1481.5 936 h4.8 M2168.5 936 h-4.8 M1481.5 921.5 h8 M2168.5 921.5 h-8 M1481.5 907 h4.8 M2168.5 907 h-4.8 M1481.5 892 h4.8 M2168.5 892 h-4.8 M1481.5 877.5 h4.8 M2168.5 877.5 h-4.8 M1481.5 863 h8 M2168.5 863 h-8 M1481.5 848 h4.8 M2168.5 848 h-4.8 M1481.5 833.5 h4.8 M2168.5 833.5 h-4.8 M1481.5 819 h4.8 M2168.5 819 h-4.8 M1481.5 804.5 h8 M2168.5 804.5 h-8 M1481.5 789.5 h4.8 M2168.5 789.5 h-4.8 M1481.5 775 h4.8 M2168.5 775 h-4.8 M1481.5 760.5 h4.8 M2168.5 760.5 h-4.8 M1481.5 745.5 h8 M2168.5 745.5 h-8 M1481.5 731 h4.8 M2168.5 731 h-4.8 M1481.5 716.5 h4.8 M2168.5 716.5 h-4.8 M1481.5 702 h4.8 M2168.5 702 h-4.8 M1481.5 687 h8 M2168.5 687 h-8 M1481.5 672.5 h4.8 M2168.5 672.5 h-4.8 M1481.5 658 h4.8 M2168.5 658 h-4.8 M1481.5 643 h4.8 M2168.5 643 h-4.8 M1481.5 628.5 h8 M2168.5 628.5 h-8 M1481.5 614 h4.8 M2168.5 614 h-4.8 M1481.5 599.5 h4.8 M2168.5 599.5 h-4.8 M1481.5 584.5 h4.8 M2168.5 584.5 h-4.8 M1481.5 570 h8 M2168.5 570 h-8" stroke="#000" stroke-opacity="0.62" stroke-width="1" fill="none"/>
<rect x="1481.5" y="555.5" width="687" height="424.5" fill="none" stroke="#000" stroke-opacity="0.56" stroke-width="1"/>
<clipPath id="c12"><rect x="1481.5" y="555.5" width="687.3" height="425"/></clipPath>
<g clip-path="url(#c12)" fill="none" stroke-linejoin="round" stroke-linecap="butt">
<path d="M1494.68 977.65 L1508.31 860.05 L1529.84 777.27 L1558.33 729.3 L1595.14 698.88 L1631.02 679.57 L1666.9 664.36 L1702.78 657.05 L1738.66 649.15 L1774.54 643.6 L1810.42 637.75 L1888.64 626.34 L1965.42 612 L2043.64 605.86 L2123.29 591.82 L2202.43 577.38 L2284.13 556.23 L2369.87 506.02 L2453.88 455.59 L2539.62 412.65 L2628.27 383.38 L2717.49 359.87 L2807.29 344.49 L2900.57 333.59 L2994.43 327.82 L3090.02 328.89 L3186.77 330.82 L3285.27 336.16 L3384.34 343.42 L3487.46 352.61 L3590.59 363.51 L3695.46 377.18 L3803.8 391.92 L3912.72 403.25 L4023.38 415.42 L4136.93 427.39 L4251.07 437.22 L4368.1 446.83 L4486.29 455.59 L4606.79 462.22 L4729.62 466.28 L4853.6 469.69 L4981.06 470.98 L5108.52 472.26 L5240.62 472.9 L5373.87 472.9 L5510.02 473.11" stroke="#4daf4a" stroke-width="2.6"/>
<g fill="#4daf4a" stroke="none">
<circle cx="1494.68" cy="978.55" r="3.0"/>
<circle cx="1508.31" cy="860.95" r="3.0"/>
<circle cx="1529.84" cy="778.17" r="3.0"/>
<circle cx="1558.33" cy="730.2" r="3.0"/>
<circle cx="1595.14" cy="699.78" r="3.0"/>
<circle cx="1631.02" cy="680.47" r="3.0"/>
<circle cx="1666.9" cy="665.26" r="3.0"/>
<circle cx="1702.78" cy="657.95" r="3.0"/>
<circle cx="1738.66" cy="650.05" r="3.0"/>
<circle cx="1774.54" cy="644.5" r="3.0"/>
<circle cx="1810.42" cy="638.65" r="3.0"/>
<circle cx="1888.64" cy="627.24" r="3.0"/>
<circle cx="1965.42" cy="612.9" r="3.0"/>
<circle cx="2043.64" cy="606.76" r="3.0"/>
<circle cx="2123.29" cy="592.72" r="3.0"/>
</g>
<path d="M1487.5 979.7 L1492.52 978.85 L1493.21 977.94 L1493.9 976.59 L1494.59 974.77 L1495.28 972.5 L1495.97 969.8 L1496.66 966.74 L1497.34 963.35 L1498.03 959.69 L1498.72 955.82 L1499.41 951.77 L1500.1 947.59 L1500.79 943.31 L1501.48 938.97 L1502.17 934.59 L1502.85 930.2 L1503.54 925.8 L1504.23 921.43 L1504.92 917.09 L1505.61 912.79 L1506.3 908.54 L1506.99 904.35 L1507.67 900.22 L1508.36 896.16 L1509.05 892.18 L1509.74 888.26 L1510.43 884.42 L1511.12 880.66 L1511.81 876.97 L1512.5 873.36 L1513.18 869.82 L1513.87 866.36 L1514.56 862.98 L1515.25 859.67 L1515.94 856.43 L1516.63 853.26 L1517.32 850.16 L1518.01 847.13 L1518.69 844.16 L1519.38 841.27 L1520.07 838.43 L1520.76 835.66 L1521.45 832.95 L1522.14 830.29 L1522.83 827.7 L1523.51 825.16 L1524.2 822.67 L1524.89 820.24 L1525.58 817.86 L1526.27 815.53 L1526.96 813.24 L1527.65 811.01 L1528.34 808.82 L1529.02 806.68 L1529.71 804.58 L1530.4 802.52 L1531.09 800.5 L1531.78 798.52 L1532.47 796.59 L1533.16 794.69 L1533.85 792.82 L1534.53 791 L1535.22 789.2 L1535.91 787.45 L1536.6 785.72 L1537.29 784.03 L1537.98 782.36 L1538.67 780.73 L1539.36 779.13 L1540.04 777.56 L1540.73 776.01 L1541.42 774.5 L1542.11 773.01 L1542.8 771.54 L1543.49 770.1 L1544.18 768.69 L1544.86 767.3 L1545.55 765.93 L1546.24 764.58 L1546.93 763.26 L1547.62 761.96 L1548.31 760.68 L1549 759.42 L1549.69 758.19 L1550.37 756.97 L1551.06 755.77 L1551.75 754.59 L1552.44 753.43 L1553.13 752.28 L1553.82 751.15 L1554.51 750.04 L1555.2 748.95 L1555.88 747.88 L1556.57 746.81 L1557.26 745.77 L1557.95 744.74 L1558.64 743.73 L1559.33 742.73 L1560.02 741.74 L1560.7 740.77 L1561.39 739.81 L1562.08 738.86 L1562.77 737.93 L1563.46 737.01 L1564.15 736.11 L1564.84 735.21 L1565.53 734.33 L1566.21 733.46 L1566.9 732.6 L1567.59 731.75 L1568.28 730.91 L1568.97 730.09 L1569.66 729.27 L1570.35 728.47 L1571.04 727.67 L1571.72 726.89 L1572.41 726.11 L1573.1 725.35 L1573.79 724.59 L1574.48 723.84 L1575.17 723.11 L1575.86 722.38 L1576.55 721.66 L1577.23 720.95 L1577.92 720.24 L1578.61 719.55 L1579.3 718.86 L1579.99 718.18 L1580.68 717.51 L1581.37 716.85 L1582.05 716.19 L1582.74 715.54 L1583.43 714.9 L1584.12 714.27 L1584.81 713.64 L1585.5 713.02 L1586.19 712.4 L1586.88 711.8 L1587.56 711.19 L1588.25 710.6 L1588.94 710.01 L1589.63 709.43 L1590.32 708.85 L1591.01 708.28 L1591.7 707.72 L1592.39 707.16 L1593.07 706.61 L1593.76 706.06 L1594.45 705.52 L1595.14 704.99 L1601.99 699.93 L1608.85 695.32 L1615.7 691.1 L1622.55 687.21 L1629.41 683.62 L1636.26 680.28 L1643.11 677.17 L1649.97 674.25 L1656.82 671.52 L1663.67 668.94 L1670.53 666.51 L1677.38 664.2 L1684.24 662.02 L1691.09 659.93 L1697.94 657.95 L1704.8 656.05 L1711.65 654.23 L1718.5 652.48 L1725.36 650.8 L1732.21 649.18 L1739.06 647.62 L1745.92 646.12 L1752.77 644.66 L1759.62 643.25 L1766.48 641.88 L1773.33 640.55 L1780.18 639.25 L1787.04 637.99 L1793.89 636.77 L1800.74 635.57 L1807.6 634.41 L1814.45 633.26 L1821.3 632.15 L1828.16 631.06 L1835.01 629.99 L1841.87 628.94 L1848.72 627.91 L1855.57 626.9 L1862.43 625.91 L1869.28 624.94 L1876.13 623.98 L1882.99 623.04 L1889.84 622.11 L1896.69 621.19 L1903.55 620.29 L1910.4 619.41 L1917.25 618.53 L1924.11 617.66 L1930.96 616.81 L1937.81 615.97 L1944.67 615.13 L1951.52 614.31 L1958.37 613.49 L1965.23 612.69 L1972.08 611.89 L1978.94 611.1 L1985.79 610.32 L1992.64 609.55 L1999.5 608.78 L2006.35 608.02 L2013.2 607.27 L2020.06 606.52 L2026.91 605.78 L2033.76 605.04 L2040.62 604.32 L2047.47 603.59 L2054.32 602.87 L2061.18 602.16 L2068.03 601.45 L2074.88 600.75 L2081.74 600.05 L2088.59 599.36 L2095.44 598.67 L2102.3 597.98 L2109.15 597.3 L2116 596.62 L2122.86 595.95 L2129.71 595.28 L2136.57 594.61 L2143.42 593.95 L2150.27 593.29 L2157.13 592.63 L2163.98 591.98 L2170.83 591.32 L2177.69 590.68 L2184.54 590.03 L2191.39 589.39 L2198.25 588.75 L2205.1 588.12" stroke="#ff7f00" stroke-width="3.0" stroke-linecap="square"/>
<path d="M1487.5 979.7 L1492.52 978.71 L1493.21 977.68 L1493.9 976.16 L1494.59 974.13 L1495.28 971.61 L1495.97 968.65 L1496.66 965.3 L1497.34 961.61 L1498.03 957.65 L1498.72 953.46 L1499.41 949.1 L1500.1 944.61 L1500.79 940.02 L1501.48 935.38 L1502.17 930.71 L1502.85 926.03 L1503.54 921.36 L1504.23 916.71 L1504.92 912.11 L1505.61 907.56 L1506.3 903.08 L1506.99 898.65 L1507.67 894.31 L1508.36 890.03 L1509.05 885.84 L1509.74 881.73 L1510.43 877.7 L1511.12 873.76 L1511.81 869.9 L1512.5 866.12 L1513.18 862.43 L1513.87 858.82 L1514.56 855.28 L1515.25 851.83 L1515.94 848.46 L1516.63 845.16 L1517.32 841.94 L1518.01 838.8 L1518.69 835.72 L1519.38 832.71 L1520.07 829.78 L1520.76 826.91 L1521.45 824.1 L1522.14 821.36 L1522.83 818.68 L1523.51 816.06 L1524.2 813.49 L1524.89 810.98 L1525.58 808.53 L1526.27 806.13 L1526.96 803.79 L1527.65 801.49 L1528.34 799.24 L1529.02 797.04 L1529.71 794.89 L1530.4 792.78 L1531.09 790.71 L1531.78 788.69 L1532.47 786.71 L1533.16 784.77 L1533.85 782.87 L1534.53 781 L1535.22 779.18 L1535.91 777.38 L1536.6 775.63 L1537.29 773.91 L1537.98 772.22 L1538.67 770.56 L1539.36 768.93 L1540.04 767.34 L1540.73 765.77 L1541.42 764.23 L1542.11 762.73 L1542.8 761.24 L1543.49 759.79 L1544.18 758.36 L1544.86 756.96 L1545.55 755.58 L1546.24 754.23 L1546.93 752.89 L1547.62 751.59 L1548.31 750.3 L1549 749.04 L1549.69 747.79 L1550.37 746.57 L1551.06 745.37 L1551.75 744.19 L1552.44 743.03 L1553.13 741.88 L1553.82 740.76 L1554.51 739.65 L1555.2 738.56 L1555.88 737.49 L1556.57 736.43 L1557.26 735.39 L1557.95 734.37 L1558.64 733.36 L1559.33 732.37 L1560.02 731.39 L1560.7 730.43 L1561.39 729.48 L1562.08 728.54 L1562.77 727.62 L1563.46 726.71 L1564.15 725.82 L1564.84 724.94 L1565.53 724.07 L1566.21 723.21 L1566.9 722.37 L1567.59 721.54 L1568.28 720.71 L1568.97 719.9 L1569.66 719.11 L1570.35 718.32 L1571.04 717.54 L1571.72 716.77 L1572.41 716.02 L1573.1 715.27 L1573.79 714.53 L1574.48 713.81 L1575.17 713.09 L1575.86 712.38 L1576.55 711.68 L1577.23 710.99 L1577.92 710.31 L1578.61 709.64 L1579.3 708.97 L1579.99 708.32 L1580.68 707.67 L1581.37 707.03 L1582.05 706.4 L1582.74 705.77 L1583.43 705.16 L1584.12 704.55 L1584.81 703.95 L1585.5 703.35 L1586.19 702.76 L1586.88 702.18 L1587.56 701.61 L1588.25 701.04 L1588.94 700.48 L1589.63 699.93 L1590.32 699.38 L1591.01 698.84 L1591.7 698.3 L1592.39 697.77 L1593.07 697.25 L1593.76 696.73 L1594.45 696.22 L1595.14 695.71 L1601.99 690.96 L1608.85 686.68 L1615.7 682.8 L1622.55 679.28 L1629.41 676.05 L1636.26 673.1 L1643.11 670.38 L1649.97 667.87 L1656.82 665.54 L1663.67 663.38 L1670.53 661.37 L1677.38 659.49 L1684.24 657.73 L1691.09 656.08 L1697.94 654.53 L1704.8 653.08 L1711.65 651.7 L1718.5 650.41 L1725.36 649.18 L1732.21 648.01 L1739.06 646.91 L1745.92 645.86 L1752.77 644.87 L1759.62 643.92 L1766.48 643.01 L1773.33 642.15 L1780.18 641.32 L1787.04 640.53 L1793.89 639.77 L1800.74 639.05 L1807.6 638.35 L1814.45 637.69 L1821.3 637.04 L1828.16 636.43 L1835.01 635.83 L1841.87 635.26 L1848.72 634.71 L1855.57 634.18 L1862.43 633.67 L1869.28 633.17 L1876.13 632.7 L1882.99 632.23 L1889.84 631.79 L1896.69 631.35 L1903.55 630.94 L1910.4 630.53 L1917.25 630.14 L1924.11 629.76 L1930.96 629.39 L1937.81 629.03 L1944.67 628.68 L1951.52 628.34 L1958.37 628.01 L1965.23 627.69 L1972.08 627.38 L1978.94 627.08 L1985.79 626.78 L1992.64 626.5 L1999.5 626.22 L2006.35 625.95 L2013.2 625.68 L2020.06 625.42 L2026.91 625.17 L2033.76 624.92 L2040.62 624.68 L2047.47 624.45 L2054.32 624.22 L2061.18 624 L2068.03 623.78 L2074.88 623.56 L2081.74 623.36 L2088.59 623.15 L2095.44 622.95 L2102.3 622.76 L2109.15 622.57 L2116 622.38 L2122.86 622.2 L2129.71 622.02 L2136.57 621.84 L2143.42 621.67 L2150.27 621.5 L2157.13 621.34 L2163.98 621.17 L2170.83 621.01 L2177.69 620.86 L2184.54 620.71 L2191.39 620.56 L2198.25 620.41 L2205.1 620.27" stroke="#984ea3" stroke-width="3.0" stroke-linecap="square"/>
</g>
<g font-size="27" fill="#000" text-anchor="middle">
<text x="1487" y="1009.3">0</text>
<text x="1630.52" y="1009.3">20</text>
<text x="1774.04" y="1009.3">40</text>
<text x="1917.56" y="1009.3">60</text>
<text x="2061.08" y="1009.3">80</text>
<text x="1825" y="1051.5">Distance from Sun (au)</text>
</g>
<path d="M1755.6 856.8 H1790" stroke="#4daf4a" stroke-width="3" fill="none"/>
<text x="1801.4" y="865.3" font-size="23.6" fill="#000">Numerical model</text>
<path d="M1755.6 901.3 H1790" stroke="#984ea3" stroke-width="3" fill="none"/>
<text x="1801.4" y="909.8" font-size="23.6" fill="#000">Cold model fit (22−52 au)</text>
<path d="M1755.6 946 H1790" stroke="#ff7f00" stroke-width="3" fill="none"/>
<text x="1801.4" y="954.5" font-size="23.6" fill="#000">Model with gradient fit (22−90 au)</text>
</g>
</svg></body></html>
